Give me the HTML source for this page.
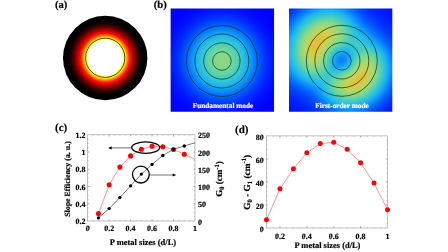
<!DOCTYPE html>
<html><head><meta charset="utf-8"><title>Figure</title>
<style>
html,body{margin:0;padding:0;background:#fff}
#f{position:relative;width:448px;height:252px;overflow:hidden;background:#fff}
.hm{position:absolute;overflow:hidden}
.hm div{position:absolute;left:0;width:100%;height:1.05px}
svg{position:absolute;left:0;top:0}
text{font-family:"Liberation Serif",serif;font-weight:bold;fill:#000;stroke:#000;stroke-width:0.18px;text-rendering:geometricPrecision}
</style></head><body>
<div id="f">
<div class="hm" style="left:170px;top:8px;width:105px;height:104px"><div style="top:0px;background:linear-gradient(90deg,#0000fe,#0000fe,#0000ff,#0000ff,#0000ff,#0001ff,#0002ff,#0004ff,#0005ff,#0007ff,#0009ff,#000bff,#000dff,#000eff,#0010ff,#0011ff,#0012ff,#0012ff,#0012ff,#0012ff,#0011ff,#000fff,#000eff,#000cff,#000aff,#0008ff,#0006ff,#0005ff,#0003ff,#0001ff,#0000ff,#0000ff,#0000ff,#0000fe,#0000fe,#0000fe)"></div><div style="top:1px;background:linear-gradient(90deg,#0000fe,#0000fe,#0000ff,#0000ff,#0000ff,#0001ff,#0003ff,#0005ff,#0006ff,#0009ff,#000bff,#000dff,#000fff,#0011ff,#0012ff,#0014ff,#0014ff,#0015ff,#0015ff,#0014ff,#0013ff,#0012ff,#0010ff,#000eff,#000cff,#000aff,#0008ff,#0006ff,#0004ff,#0002ff,#0001ff,#0000ff,#0000ff,#0000ff,#0000fe,#0000fe)"></div><div style="top:2px;background:linear-gradient(90deg,#0000fe,#0000fe,#0000ff,#0000ff,#0000ff,#0002ff,#0004ff,#0006ff,#0008ff,#000aff,#000cff,#000fff,#0011ff,#0013ff,#0015ff,#0016ff,#0017ff,#0018ff,#0018ff,#0017ff,#0016ff,#0014ff,#0012ff,#0010ff,#000eff,#000bff,#0009ff,#0007ff,#0005ff,#0003ff,#0001ff,#0000ff,#0000ff,#0000ff,#0000fe,#0000fe)"></div><div style="top:3px;background:linear-gradient(90deg,#0000fe,#0000ff,#0000ff,#0000ff,#0001ff,#0003ff,#0005ff,#0007ff,#0009ff,#000cff,#000eff,#0011ff,#0013ff,#0016ff,#0018ff,#0019ff,#001aff,#001bff,#001bff,#001aff,#0019ff,#0017ff,#0015ff,#0012ff,#0010ff,#000dff,#000bff,#0008ff,#0006ff,#0004ff,#0002ff,#0000ff,#0000ff,#0000ff,#0000fe,#0000fe)"></div><div style="top:4px;background:linear-gradient(90deg,#0000fe,#0000ff,#0000ff,#0000ff,#0002ff,#0004ff,#0006ff,#0008ff,#000bff,#000dff,#0010ff,#0013ff,#0016ff,#0019ff,#001bff,#001dff,#001eff,#001eff,#001eff,#001dff,#001cff,#001aff,#0018ff,#0015ff,#0012ff,#000fff,#000cff,#000aff,#0007ff,#0005ff,#0003ff,#0001ff,#0000ff,#0000ff,#0000ff,#0000fe)"></div><div style="top:5px;background:linear-gradient(90deg,#0000fe,#0000ff,#0000ff,#0001ff,#0002ff,#0004ff,#0007ff,#0009ff,#000cff,#000fff,#0013ff,#0016ff,#0019ff,#001cff,#001eff,#0020ff,#0021ff,#0022ff,#0022ff,#0021ff,#001fff,#001dff,#001bff,#0018ff,#0015ff,#0011ff,#000eff,#000bff,#0008ff,#0006ff,#0004ff,#0002ff,#0000ff,#0000ff,#0000ff,#0000fe)"></div><div style="top:6px;background:linear-gradient(90deg,#0000ff,#0000ff,#0000ff,#0001ff,#0003ff,#0005ff,#0008ff,#000bff,#000eff,#0012ff,#0015ff,#0019ff,#001cff,#001fff,#0022ff,#0024ff,#0025ff,#0026ff,#0026ff,#0025ff,#0023ff,#0021ff,#001eff,#001bff,#0017ff,#0014ff,#0010ff,#000dff,#000aff,#0007ff,#0004ff,#0002ff,#0001ff,#0000ff,#0000ff,#0000fe)"></div><div style="top:7px;background:linear-gradient(90deg,#0000ff,#0000ff,#0000ff,#0002ff,#0004ff,#0006ff,#0009ff,#000dff,#0010ff,#0014ff,#0018ff,#001cff,#001fff,#0023ff,#0026ff,#0028ff,#002aff,#002aff,#002aff,#0029ff,#0027ff,#0025ff,#0021ff,#001eff,#001aff,#0016ff,#0012ff,#000fff,#000bff,#0008ff,#0005ff,#0003ff,#0001ff,#0000ff,#0000ff,#0000ff)"></div><div style="top:8px;background:linear-gradient(90deg,#0000ff,#0000ff,#0001ff,#0003ff,#0005ff,#0008ff,#000bff,#000eff,#0012ff,#0016ff,#001bff,#001fff,#0023ff,#0027ff,#002aff,#002dff,#002eff,#002fff,#002fff,#002eff,#002cff,#0029ff,#0025ff,#0021ff,#001dff,#0019ff,#0015ff,#0011ff,#000dff,#0009ff,#0006ff,#0004ff,#0002ff,#0000ff,#0000ff,#0000ff)"></div><div style="top:9px;background:linear-gradient(90deg,#0000ff,#0000ff,#0001ff,#0003ff,#0006ff,#0009ff,#000cff,#0010ff,#0014ff,#0019ff,#001eff,#0022ff,#0027ff,#002bff,#002eff,#0031ff,#0033ff,#0034ff,#0034ff,#0032ff,#0030ff,#002dff,#0029ff,#0025ff,#0020ff,#001cff,#0017ff,#0013ff,#000eff,#000bff,#0008ff,#0005ff,#0003ff,#0001ff,#0000ff,#0000ff)"></div><div style="top:10px;background:linear-gradient(90deg,#0000ff,#0000ff,#0002ff,#0004ff,#0007ff,#000aff,#000eff,#0012ff,#0017ff,#001cff,#0021ff,#0026ff,#002bff,#002fff,#0033ff,#0036ff,#0038ff,#0039ff,#0039ff,#0038ff,#0035ff,#0032ff,#002eff,#0029ff,#0024ff,#001fff,#001aff,#0015ff,#0010ff,#000cff,#0009ff,#0006ff,#0003ff,#0001ff,#0000ff,#0000ff)"></div><div style="top:11px;background:linear-gradient(90deg,#0000ff,#0001ff,#0003ff,#0005ff,#0008ff,#000bff,#0010ff,#0014ff,#0019ff,#001fff,#0024ff,#002aff,#002fff,#0034ff,#0038ff,#003cff,#003eff,#003fff,#003fff,#003dff,#003bff,#0037ff,#0032ff,#002dff,#0028ff,#0022ff,#001cff,#0017ff,#0012ff,#000eff,#000aff,#0007ff,#0004ff,#0002ff,#0000ff,#0000ff)"></div><div style="top:12px;background:linear-gradient(90deg,#0000ff,#0001ff,#0003ff,#0006ff,#0009ff,#000dff,#0011ff,#0016ff,#001cff,#0022ff,#0028ff,#002eff,#0034ff,#0039ff,#003eff,#0042ff,#0044ff,#0045ff,#0045ff,#0043ff,#0040ff,#003cff,#0037ff,#0032ff,#002cff,#0026ff,#001fff,#001aff,#0014ff,#0010ff,#000bff,#0008ff,#0005ff,#0002ff,#0000ff,#0000ff)"></div><div style="top:13px;background:linear-gradient(90deg,#0000ff,#0002ff,#0004ff,#0007ff,#000aff,#000eff,#0013ff,#0019ff,#001fff,#0025ff,#002cff,#0033ff,#0039ff,#003fff,#0044ff,#0048ff,#004aff,#004bff,#004bff,#0049ff,#0046ff,#0042ff,#003dff,#0036ff,#0030ff,#0029ff,#0023ff,#001cff,#0017ff,#0011ff,#000dff,#0009ff,#0006ff,#0003ff,#0001ff,#0000ff)"></div><div style="top:14px;background:linear-gradient(90deg,#0000ff,#0002ff,#0005ff,#0008ff,#000cff,#0010ff,#0015ff,#001bff,#0022ff,#0029ff,#0030ff,#0037ff,#003eff,#0045ff,#004aff,#004eff,#0151ff,#0152ff,#0152ff,#0150ff,#004dff,#0048ff,#0042ff,#003bff,#0034ff,#002dff,#0026ff,#001fff,#0019ff,#0013ff,#000eff,#000aff,#0007ff,#0004ff,#0001ff,#0000ff)"></div><div style="top:15px;background:linear-gradient(90deg,#0001ff,#0003ff,#0006ff,#0009ff,#000dff,#0012ff,#0018ff,#001eff,#0025ff,#002dff,#0034ff,#003cff,#0044ff,#004bff,#0150ff,#0154ff,#0257fe,#0259fe,#0258fe,#0256fe,#0153ff,#004eff,#0048ff,#0041ff,#0039ff,#0031ff,#002aff,#0022ff,#001bff,#0015ff,#0010ff,#000bff,#0007ff,#0004ff,#0002ff,#0000ff)"></div><div style="top:16px;background:linear-gradient(90deg,#0001ff,#0003ff,#0006ff,#000aff,#000eff,#0014ff,#001aff,#0021ff,#0028ff,#0031ff,#0039ff,#0041ff,#004aff,#0151ff,#0256fe,#025bfe,#035efe,#0360fe,#035ffe,#035dfe,#0259fe,#0154ff,#004eff,#0046ff,#003eff,#0036ff,#002dff,#0025ff,#001eff,#0017ff,#0012ff,#000dff,#0008ff,#0005ff,#0002ff,#0000ff)"></div><div style="top:17px;background:linear-gradient(90deg,#0002ff,#0004ff,#0007ff,#000bff,#0010ff,#0016ff,#001cff,#0024ff,#002cff,#0035ff,#003eff,#0047ff,#014fff,#0257fe,#035dfe,#0462fe,#0465fe,#0467fe,#0467fe,#0464fe,#0360fe,#025bfe,#0154ff,#004cff,#0043ff,#003aff,#0031ff,#0029ff,#0021ff,#001aff,#0013ff,#000eff,#000aff,#0006ff,#0003ff,#0001ff)"></div><div style="top:18px;background:linear-gradient(90deg,#0002ff,#0005ff,#0008ff,#000cff,#0012ff,#0018ff,#001fff,#0027ff,#0030ff,#0039ff,#0043ff,#004dff,#0255ff,#035dfe,#0464fe,#0569fe,#056dfd,#056ffd,#056efd,#056cfd,#0468fe,#0362fe,#025afe,#0152ff,#0049ff,#003fff,#0035ff,#002cff,#0023ff,#001cff,#0015ff,#000fff,#000bff,#0007ff,#0004ff,#0001ff)"></div><div style="top:19px;background:linear-gradient(90deg,#0003ff,#0006ff,#0009ff,#000eff,#0013ff,#001aff,#0021ff,#002aff,#0034ff,#003eff,#0048ff,#0152ff,#035cfe,#0464fe,#056bfe,#0671fd,#0675fd,#0777fd,#0776fd,#0674fd,#066ffd,#0569fe,#0361fe,#0258fe,#014eff,#0044ff,#003aff,#0030ff,#0026ff,#001eff,#0017ff,#0011ff,#000cff,#0008ff,#0004ff,#0002ff)"></div><div style="top:20px;background:linear-gradient(90deg,#0003ff,#0006ff,#000aff,#000fff,#0015ff,#001cff,#0024ff,#002dff,#0038ff,#0042ff,#004dff,#0258fe,#0462fe,#056bfe,#0673fd,#0779fd,#087dfd,#087ffd,#087ffd,#087cfd,#0777fd,#0670fd,#0468fe,#035efe,#0154ff,#0049ff,#003eff,#0033ff,#002aff,#0021ff,#0019ff,#0012ff,#000dff,#0008ff,#0005ff,#0002ff)"></div><div style="top:21px;background:linear-gradient(90deg,#0004ff,#0007ff,#000bff,#0010ff,#0017ff,#001eff,#0027ff,#0031ff,#003cff,#0047ff,#0153ff,#035efe,#0569fe,#0672fd,#077bfd,#0881fc,#0986fc,#0988fc,#0987fc,#0984fc,#087ffd,#0778fd,#056ffd,#0464fe,#025afe,#014eff,#0043ff,#0037ff,#002dff,#0023ff,#001bff,#0014ff,#000eff,#0009ff,#0006ff,#0003ff)"></div><div style="top:22px;background:linear-gradient(90deg,#0004ff,#0008ff,#000cff,#0012ff,#0019ff,#0021ff,#002aff,#0034ff,#0040ff,#004cff,#0258fe,#0464fe,#0670fd,#077afd,#0983fc,#0a8afc,#0b8efb,#0c90fb,#0c8ffb,#0a8dfc,#0988fc,#0880fd,#0776fd,#056bfe,#035ffe,#0153ff,#0047ff,#003bff,#0030ff,#0026ff,#001dff,#0016ff,#000fff,#000aff,#0006ff,#0003ff)"></div><div style="top:23px;background:linear-gradient(90deg,#0005ff,#0009ff,#000dff,#0013ff,#001aff,#0023ff,#002dff,#0038ff,#0045ff,#0151ff,#035efe,#056bfe,#0777fd,#0882fc,#0a8bfc,#0c91fb,#0e95f9,#0f96f9,#0f96f9,#0e93fa,#0c8ffb,#0988fc,#087efd,#0672fd,#0466fe,#0259fe,#004cff,#003fff,#0034ff,#0029ff,#001fff,#0017ff,#0011ff,#000bff,#0007ff,#0004ff)"></div><div style="top:24px;background:linear-gradient(90deg,#0006ff,#000aff,#000fff,#0015ff,#001cff,#0026ff,#0030ff,#003cff,#0049ff,#0256fe,#0464fe,#0671fd,#087efd,#0a8afc,#0d92fa,#1098f9,#129bf7,#139df7,#129df7,#119af8,#0f95f9,#0c8ffb,#0985fc,#0779fd,#056cfd,#035efe,#0151ff,#0044ff,#0037ff,#002cff,#0022ff,#0019ff,#0012ff,#000cff,#0008ff,#0004ff)"></div><div style="top:25px;background:linear-gradient(90deg,#0006ff,#000aff,#0010ff,#0016ff,#001eff,#0028ff,#0033ff,#0040ff,#004eff,#035bfe,#056afe,#0778fd,#0986fc,#0c90fb,#1098f8,#139ef7,#15a2f5,#16a4f5,#16a4f5,#14a1f6,#129cf7,#0f95f9,#0a8dfc,#0880fd,#0672fd,#0464fe,#0256ff,#0048ff,#003bff,#002fff,#0024ff,#001bff,#0014ff,#000dff,#0009ff,#0005ff)"></div><div style="top:26px;background:linear-gradient(90deg,#0007ff,#000bff,#0011ff,#0018ff,#0021ff,#002bff,#0037ff,#0044ff,#0152ff,#0361fe,#0670fd,#087ffd,#0a8dfc,#0f97f9,#139ff6,#17a5f4,#19a9f3,#1aabf3,#19abf3,#18a8f4,#15a3f5,#129cf7,#0d93fa,#0988fc,#0779fd,#056afe,#025bfe,#004cff,#003eff,#0032ff,#0026ff,#001dff,#0015ff,#000fff,#0009ff,#0005ff)"></div><div style="top:27px;background:linear-gradient(90deg,#0008ff,#000cff,#0012ff,#001aff,#0023ff,#002dff,#003aff,#0048ff,#0257fe,#0466fe,#0776fd,#0986fc,#0d93fa,#129df7,#17a5f4,#1aacf2,#1cb1f1,#1db3f0,#1db2f1,#1caff1,#19aaf3,#15a2f5,#1099f8,#0b8efb,#0880fd,#0670fd,#0360fe,#0151ff,#0042ff,#0035ff,#0029ff,#001fff,#0016ff,#0010ff,#000aff,#0006ff)"></div><div style="top:28px;background:linear-gradient(90deg,#0008ff,#000dff,#0013ff,#001bff,#0025ff,#0030ff,#003dff,#004cff,#025bfe,#056bfe,#087cfd,#0a8dfc,#1098f8,#15a3f5,#1aacf2,#1eb3f0,#20b6ee,#21b7ec,#21b7ed,#1fb5ef,#1cb1f1,#18a9f3,#139ff6,#0e94fa,#0986fc,#0775fd,#0465fe,#0255ff,#0046ff,#0038ff,#002bff,#0021ff,#0018ff,#0011ff,#000bff,#0007ff)"></div><div style="top:29px;background:linear-gradient(90deg,#0009ff,#000eff,#0015ff,#001dff,#0027ff,#0033ff,#0041ff,#0150ff,#0360fe,#0671fd,#0983fc,#0d92fa,#139ef7,#19a9f3,#1db3f0,#21b7ec,#24bae9,#25bbe8,#24bae8,#23b9ea,#20b6ee,#1caff1,#16a5f5,#1199f8,#0a8dfc,#077bfd,#056afe,#0259fe,#004aff,#003bff,#002eff,#0023ff,#0019ff,#0012ff,#000cff,#0007ff)"></div><div style="top:30px;background:linear-gradient(90deg,#000aff,#000fff,#0016ff,#001fff,#0029ff,#0035ff,#0044ff,#0154ff,#0464fe,#0776fd,#0a89fc,#1097f9,#16a4f5,#1cb0f1,#21b7ed,#25bbe8,#27bde4,#29bfe3,#28bee3,#26bce5,#23b9e9,#1fb5ef,#1aabf3,#139ff6,#0d92fa,#0881fc,#066ffd,#035efe,#004dff,#003eff,#0030ff,#0025ff,#001bff,#0013ff,#000dff,#0008ff)"></div><div style="top:31px;background:linear-gradient(90deg,#000aff,#0010ff,#0017ff,#0020ff,#002bff,#0038ff,#0047ff,#0258fe,#0569fe,#087cfd,#0b8efb,#129cf7,#19aaf3,#1fb5ef,#24bae8,#28bee3,#2bc1e0,#2cc2de,#2cc2de,#2ac0e1,#27bde5,#22b8eb,#1db1f1,#16a4f5,#0f97f9,#0988fc,#0674fd,#0462fe,#0151ff,#0041ff,#0033ff,#0027ff,#001cff,#0014ff,#000dff,#0008ff)"></div><div style="top:32px;background:linear-gradient(90deg,#000bff,#0011ff,#0018ff,#0022ff,#002dff,#003bff,#004bff,#035cfe,#056efd,#0881fc,#0d93fa,#15a2f6,#1cb0f1,#22b8eb,#28bee4,#2cc2df,#2fc5db,#30c6d9,#30c6da,#2ec4dc,#2ac0e1,#26bce7,#20b6ee,#19aaf3,#129cf7,#0b8dfc,#0779fd,#0466fe,#0155ff,#0044ff,#0035ff,#0028ff,#001eff,#0015ff,#000eff,#0009ff)"></div><div style="top:33px;background:linear-gradient(90deg,#000cff,#0012ff,#001aff,#0023ff,#002fff,#003eff,#004eff,#035ffe,#0672fd,#0987fc,#1098f9,#17a7f4,#1fb5ef,#25bbe7,#2bc1e0,#2fc5da,#33c8d6,#36c9d3,#35c9d4,#31c7d8,#2ec4dc,#29bfe2,#23b9ea,#1cb0f1,#14a1f6,#0d91fa,#087ffd,#056bfe,#0258fe,#0047ff,#0038ff,#002aff,#001fff,#0016ff,#000fff,#000aff)"></div><div style="top:34px;background:linear-gradient(90deg,#000cff,#0013ff,#001bff,#0025ff,#0032ff,#0040ff,#0151ff,#0463fe,#0777fd,#0a8cfc,#129cf7,#1aacf2,#21b7ec,#28bee3,#2ec4dc,#34c9d5,#3acace,#3dcbca,#3ccbcb,#38cad0,#31c7d8,#2cc2de,#26bce6,#1fb5ef,#17a6f4,#0f96f9,#0984fc,#066ffd,#035cfe,#004aff,#003aff,#002cff,#0021ff,#0017ff,#0010ff,#000aff)"></div><div style="top:35px;background:linear-gradient(90deg,#000dff,#0014ff,#001cff,#0027ff,#0034ff,#0043ff,#0154ff,#0467fe,#077cfd,#0c90fb,#14a0f6,#1cb1f1,#24bae8,#2bc1df,#32c8d7,#3bcacd,#42ccc6,#44cdc2,#44ccc3,#3fcbc8,#37c9d1,#2fc5da,#29bfe3,#21b7ec,#19aaf3,#119af8,#0989fc,#0673fd,#035ffe,#004dff,#003dff,#002eff,#0022ff,#0018ff,#0011ff,#000bff)"></div><div style="top:36px;background:linear-gradient(90deg,#000eff,#0015ff,#001dff,#0028ff,#0036ff,#0046ff,#0257fe,#056bfe,#0880fd,#0e94fa,#16a5f5,#1fb5ef,#27bde5,#2fc5db,#38c9d0,#42ccc5,#49cebe,#4cceba,#4bcebb,#46cdc0,#3ecbc9,#33c8d6,#2cc2df,#24bae9,#1caff1,#139ef7,#0b8dfc,#0777fd,#0463fe,#0150ff,#003fff,#0030ff,#0024ff,#001aff,#0012ff,#000bff)"></div><div style="top:37px;background:linear-gradient(90deg,#000eff,#0015ff,#001eff,#002aff,#0038ff,#0048ff,#025afe,#056efd,#0984fc,#1097f9,#19a9f3,#21b7ec,#2ac0e1,#31c7d8,#3ecbc9,#48cebe,#4fcfb6,#53d0b2,#52d0b3,#4dcfb9,#45cdc2,#39cacf,#2ec4db,#26bce5,#1eb4f0,#15a2f5,#0c91fb,#077bfd,#0466fe,#0153ff,#0041ff,#0032ff,#0025ff,#001bff,#0012ff,#000cff)"></div><div style="top:38px;background:linear-gradient(90deg,#000fff,#0016ff,#0020ff,#002bff,#003aff,#004bff,#035dfe,#0672fd,#0989fc,#129bf7,#1badf2,#24bae9,#2cc2de,#37c9d2,#44cdc3,#4fcfb6,#56d1ae,#59d2ab,#59d2ac,#54d0b1,#4bcebb,#3fcbc8,#31c7d8,#29bfe2,#20b6ed,#17a6f4,#0e94fa,#087ffd,#0569fe,#0255ff,#0044ff,#0034ff,#0026ff,#001cff,#0013ff,#000cff)"></div><div style="top:39px;background:linear-gradient(90deg,#000fff,#0017ff,#0021ff,#002dff,#003bff,#004dff,#0360fe,#0675fd,#0a8cfc,#139ef6,#1db1f1,#26bce6,#2fc5db,#3ccbcc,#4acebc,#55d1b0,#5dd2a8,#60d3a6,#5fd3a6,#5ad2aa,#51d0b4,#45cdc2,#36c9d3,#2bc1df,#22b8eb,#19aaf3,#1097f9,#0983fc,#056cfd,#0258fe,#0046ff,#0035ff,#0028ff,#001dff,#0014ff,#000dff)"></div><div style="top:40px;background:linear-gradient(90deg,#0010ff,#0018ff,#0022ff,#002eff,#003dff,#014fff,#0462fe,#0778fd,#0c8ffb,#15a2f5,#1eb4ef,#28bee3,#31c7d8,#41ccc6,#50cfb6,#5bd2a9,#63d3a4,#67d4a1,#66d4a2,#60d3a5,#57d1ad,#4acebc,#3bcacd,#2ec4dc,#24bae8,#1badf2,#119af8,#0987fc,#066ffd,#025afe,#0048ff,#0037ff,#0029ff,#001dff,#0014ff,#000dff)"></div><div style="top:41px;background:linear-gradient(90deg,#0011ff,#0019ff,#0023ff,#002fff,#003fff,#0151ff,#0465fe,#077bfd,#0d92fa,#16a5f5,#20b6ed,#2ac0e1,#35c9d4,#46cdc0,#55d1b0,#61d3a5,#69d49f,#6dd59d,#6cd59d,#66d4a1,#5dd2a8,#4fcfb6,#40cbc8,#30c6da,#26bce6,#1cb1f1,#139df7,#0a8afc,#0672fd,#035dfe,#004aff,#0038ff,#002aff,#001eff,#0015ff,#000eff)"></div><div style="top:42px;background:linear-gradient(90deg,#0011ff,#0019ff,#0024ff,#0031ff,#0041ff,#0153ff,#0467fe,#087efd,#0e94fa,#18a8f4,#22b8eb,#2cc2df,#39cacf,#4bcebb,#5ad2aa,#66d4a1,#6fd59b,#73d698,#72d599,#6cd59d,#62d3a4,#54d1b0,#44cdc3,#32c8d7,#28bee4,#1eb4f0,#14a0f6,#0a8dfc,#0675fd,#035ffe,#004bff,#003aff,#002bff,#001fff,#0016ff,#000eff)"></div><div style="top:43px;background:linear-gradient(90deg,#0012ff,#001aff,#0024ff,#0032ff,#0042ff,#0155ff,#0569fe,#0881fd,#0f97f9,#19aaf3,#23b9e9,#2ec4dc,#3dcbca,#4fcfb6,#5fd3a7,#6cd59d,#74d697,#78d695,#77d695,#71d599,#67d4a1,#59d2ab,#48cebe,#35c9d3,#2ac0e1,#1fb5ee,#15a2f5,#0b8ffb,#0777fd,#0361fe,#004dff,#003bff,#002cff,#0020ff,#0016ff,#000fff)"></div><div style="top:44px;background:linear-gradient(90deg,#0012ff,#001aff,#0025ff,#0033ff,#0043ff,#0256fe,#056bfe,#0983fc,#1099f8,#1aadf2,#25bbe7,#2fc5da,#41ccc6,#53d0b2,#63d3a3,#70d59a,#79d694,#7dd791,#7cd792,#76d696,#6cd59d,#5dd2a8,#4ccfba,#39cacf,#2bc1e0,#21b7ed,#16a5f5,#0c91fb,#0779fd,#0462fe,#014eff,#003cff,#002dff,#0021ff,#0017ff,#000fff)"></div><div style="top:45px;background:linear-gradient(90deg,#0012ff,#001bff,#0026ff,#0034ff,#0045ff,#0258fe,#056dfd,#0985fc,#119af8,#1caff1,#26bce6,#31c7d8,#44cdc3,#57d1ae,#67d4a0,#75d697,#7dd791,#81d78e,#80d78f,#7ad793,#70d59a,#61d3a5,#50cfb6,#3ccbcc,#2dc3de,#22b8eb,#17a7f4,#0d93fa,#077bfd,#0464fe,#0150ff,#003dff,#002eff,#0021ff,#0017ff,#000fff)"></div><div style="top:46px;background:linear-gradient(90deg,#0013ff,#001bff,#0027ff,#0035ff,#0046ff,#0259fe,#056ffd,#0987fc,#129cf7,#1db1f1,#27bde4,#32c8d7,#47cdbf,#5ad2aa,#6bd49e,#78d694,#81d78e,#84d78b,#83d78c,#7ed790,#73d698,#65d4a2,#53d0b2,#3fcbc9,#2ec4dc,#23b9ea,#18a9f3,#0e94fa,#087dfd,#0466fe,#0151ff,#003eff,#002fff,#0022ff,#0018ff,#0010ff)"></div><div style="top:47px;background:linear-gradient(90deg,#0013ff,#001cff,#0027ff,#0035ff,#0047ff,#025afe,#0670fd,#0a89fc,#139ef7,#1db3f0,#28bee3,#35c9d4,#49cebd,#5dd2a8,#6ed59c,#7cd792,#84d78b,#87d789,#86d789,#81d78e,#77d695,#68d4a0,#55d1af,#41ccc6,#2fc5db,#24bae9,#19aaf3,#0f96f9,#087ffd,#0467fe,#0152ff,#003fff,#002fff,#0022ff,#0018ff,#0010ff)"></div><div style="top:48px;background:linear-gradient(90deg,#0013ff,#001cff,#0028ff,#0036ff,#0047ff,#025bfe,#0671fd,#0a8afc,#139ff6,#1eb4f0,#29bfe2,#36c9d2,#4cceba,#5fd3a6,#71d59a,#7ed790,#86d789,#8ad786,#89d787,#83d78c,#79d694,#6ad49e,#58d1ad,#43ccc4,#30c6da,#25bbe8,#1aacf3,#0f97f9,#0880fd,#0468fe,#0153ff,#0040ff,#0030ff,#0023ff,#0018ff,#0010ff)"></div><div style="top:49px;background:linear-gradient(90deg,#0013ff,#001cff,#0028ff,#0036ff,#0048ff,#035cfe,#0672fd,#0a8cfc,#14a0f6,#1fb5ef,#2ac0e1,#38c9d0,#4dcfb8,#61d3a5,#73d698,#80d78e,#88d788,#8cd785,#8bd786,#85d78a,#7cd792,#6cd59d,#59d2ab,#45cdc2,#31c7d9,#25bbe7,#1aadf2,#1098f9,#0881fd,#0569fe,#0153ff,#0041ff,#0030ff,#0023ff,#0019ff,#0010ff)"></div><div style="top:50px;background:linear-gradient(90deg,#0014ff,#001dff,#0028ff,#0037ff,#0048ff,#035cfe,#0673fd,#0a8cfc,#14a1f6,#1fb5ef,#2ac0e1,#39cacf,#4fcfb7,#63d3a4,#74d697,#82d78d,#8ad787,#8dd884,#8cd884,#87d789,#7dd791,#6ed59c,#5bd2a9,#46cdc0,#31c7d8,#26bce6,#1badf2,#1098f8,#0882fc,#0569fe,#0154ff,#0041ff,#0031ff,#0023ff,#0019ff,#0011ff)"></div><div style="top:51px;background:linear-gradient(90deg,#0014ff,#001dff,#0028ff,#0037ff,#0049ff,#035dfe,#0673fd,#0a8dfc,#15a1f6,#1fb5ee,#2bc1e0,#3acace,#50cfb6,#64d3a3,#76d696,#83d78c,#8bd786,#8ed883,#8dd883,#88d788,#7ed790,#6fd59b,#5cd2a9,#47cdbf,#31c7d8,#26bce6,#1baef2,#1099f8,#0982fc,#056afe,#0154ff,#0041ff,#0031ff,#0023ff,#0019ff,#0011ff)"></div><div style="top:52px;background:linear-gradient(90deg,#0014ff,#001dff,#0029ff,#0037ff,#0049ff,#035dfe,#0674fd,#0a8dfc,#15a1f6,#20b6ee,#2bc1e0,#3acace,#50cfb5,#64d3a3,#76d696,#83d78c,#8bd785,#8fd882,#8ed883,#88d788,#7fd790,#6fd59b,#5cd2a8,#47cdbf,#32c8d7,#26bce6,#1baef2,#1199f8,#0983fc,#056afe,#0155ff,#0041ff,#0031ff,#0024ff,#0019ff,#0011ff)"></div><div style="top:53px;background:linear-gradient(90deg,#0014ff,#001dff,#0029ff,#0037ff,#0049ff,#035dfe,#0674fd,#0a8dfc,#15a1f6,#20b6ee,#2bc1e0,#3acace,#50cfb5,#64d3a3,#76d696,#83d78c,#8bd785,#8fd882,#8ed883,#88d788,#7fd790,#6fd59b,#5cd2a8,#47cdbf,#32c8d7,#26bce6,#1baef2,#1199f8,#0983fc,#056afe,#0155ff,#0041ff,#0031ff,#0024ff,#0019ff,#0011ff)"></div><div style="top:54px;background:linear-gradient(90deg,#0014ff,#001dff,#0028ff,#0037ff,#0049ff,#035dfe,#0673fd,#0a8dfc,#15a1f6,#1fb5ee,#2bc1e0,#3acace,#50cfb6,#64d3a3,#76d696,#83d78c,#8bd786,#8ed883,#8dd883,#88d788,#7ed790,#6fd59b,#5cd2a9,#47cdbf,#31c7d8,#26bce6,#1baef2,#1099f8,#0982fc,#056afe,#0154ff,#0041ff,#0031ff,#0023ff,#0019ff,#0011ff)"></div><div style="top:55px;background:linear-gradient(90deg,#0014ff,#001dff,#0028ff,#0037ff,#0048ff,#035cfe,#0673fd,#0a8cfc,#14a1f6,#1fb5ef,#2ac0e1,#39cacf,#4fcfb7,#63d3a4,#74d697,#82d78d,#8ad787,#8dd884,#8cd884,#87d789,#7dd791,#6ed59c,#5bd2a9,#46cdc0,#31c7d8,#26bce6,#1badf2,#1098f8,#0882fc,#0569fe,#0154ff,#0041ff,#0031ff,#0023ff,#0019ff,#0011ff)"></div><div style="top:56px;background:linear-gradient(90deg,#0013ff,#001cff,#0028ff,#0036ff,#0048ff,#035cfe,#0672fd,#0a8cfc,#14a0f6,#1fb5ef,#2ac0e1,#38c9d0,#4dcfb8,#61d3a5,#73d698,#80d78e,#88d788,#8cd785,#8bd786,#85d78a,#7cd792,#6cd59d,#59d2ab,#45cdc2,#31c7d9,#25bbe7,#1aadf2,#1098f9,#0881fd,#0569fe,#0153ff,#0041ff,#0030ff,#0023ff,#0019ff,#0010ff)"></div><div style="top:57px;background:linear-gradient(90deg,#0013ff,#001cff,#0028ff,#0036ff,#0047ff,#025bfe,#0671fd,#0a8afc,#139ff6,#1eb4f0,#29bfe2,#36c9d2,#4cceba,#5fd3a6,#71d59a,#7ed790,#86d789,#8ad786,#89d787,#83d78c,#79d694,#6ad49e,#58d1ad,#43ccc4,#30c6da,#25bbe8,#1aacf3,#0f97f9,#0880fd,#0468fe,#0153ff,#0040ff,#0030ff,#0023ff,#0018ff,#0010ff)"></div><div style="top:58px;background:linear-gradient(90deg,#0013ff,#001cff,#0027ff,#0035ff,#0047ff,#025afe,#0670fd,#0a89fc,#139ef7,#1db3f0,#28bee3,#35c9d4,#49cebd,#5dd2a8,#6ed59c,#7cd792,#84d78b,#87d789,#86d789,#81d78e,#77d695,#68d4a0,#55d1af,#41ccc6,#2fc5db,#24bae9,#19aaf3,#0f96f9,#087ffd,#0467fe,#0152ff,#003fff,#002fff,#0022ff,#0018ff,#0010ff)"></div><div style="top:59px;background:linear-gradient(90deg,#0013ff,#001bff,#0027ff,#0035ff,#0046ff,#0259fe,#056ffd,#0987fc,#129cf7,#1db1f1,#27bde4,#32c8d7,#47cdbf,#5ad2aa,#6bd49e,#78d694,#81d78e,#84d78b,#83d78c,#7ed790,#73d698,#65d4a2,#53d0b2,#3fcbc9,#2ec4dc,#23b9ea,#18a9f3,#0e94fa,#087dfd,#0466fe,#0151ff,#003eff,#002fff,#0022ff,#0018ff,#0010ff)"></div><div style="top:60px;background:linear-gradient(90deg,#0012ff,#001bff,#0026ff,#0034ff,#0045ff,#0258fe,#056dfd,#0985fc,#119af8,#1caff1,#26bce6,#31c7d8,#44cdc3,#57d1ae,#67d4a0,#75d697,#7dd791,#81d78e,#80d78f,#7ad793,#70d59a,#61d3a5,#50cfb6,#3ccbcc,#2dc3de,#22b8eb,#17a7f4,#0d93fa,#077bfd,#0464fe,#0150ff,#003dff,#002eff,#0021ff,#0017ff,#000fff)"></div><div style="top:61px;background:linear-gradient(90deg,#0012ff,#001aff,#0025ff,#0033ff,#0043ff,#0256fe,#056bfe,#0983fc,#1099f8,#1aadf2,#25bbe7,#2fc5da,#41ccc6,#53d0b2,#63d3a3,#70d59a,#79d694,#7dd791,#7cd792,#76d696,#6cd59d,#5dd2a8,#4ccfba,#39cacf,#2bc1e0,#21b7ed,#16a5f5,#0c91fb,#0779fd,#0462fe,#014eff,#003cff,#002dff,#0021ff,#0017ff,#000fff)"></div><div style="top:62px;background:linear-gradient(90deg,#0012ff,#001aff,#0024ff,#0032ff,#0042ff,#0155ff,#0569fe,#0881fd,#0f97f9,#19aaf3,#23b9e9,#2ec4dc,#3dcbca,#4fcfb6,#5fd3a7,#6cd59d,#74d697,#78d695,#77d695,#71d599,#67d4a1,#59d2ab,#48cebe,#35c9d3,#2ac0e1,#1fb5ee,#15a2f5,#0b8ffb,#0777fd,#0361fe,#004dff,#003bff,#002cff,#0020ff,#0016ff,#000fff)"></div><div style="top:63px;background:linear-gradient(90deg,#0011ff,#0019ff,#0024ff,#0031ff,#0041ff,#0153ff,#0467fe,#087efd,#0e94fa,#18a8f4,#22b8eb,#2cc2df,#39cacf,#4bcebb,#5ad2aa,#66d4a1,#6fd59b,#73d698,#72d599,#6cd59d,#62d3a4,#54d1b0,#44cdc3,#32c8d7,#28bee4,#1eb4f0,#14a0f6,#0a8dfc,#0675fd,#035ffe,#004bff,#003aff,#002bff,#001fff,#0016ff,#000eff)"></div><div style="top:64px;background:linear-gradient(90deg,#0011ff,#0019ff,#0023ff,#002fff,#003fff,#0151ff,#0465fe,#077bfd,#0d92fa,#16a5f5,#20b6ed,#2ac0e1,#35c9d4,#46cdc0,#55d1b0,#61d3a5,#69d49f,#6dd59d,#6cd59d,#66d4a1,#5dd2a8,#4fcfb6,#40cbc8,#30c6da,#26bce6,#1cb1f1,#139df7,#0a8afc,#0672fd,#035dfe,#004aff,#0038ff,#002aff,#001eff,#0015ff,#000eff)"></div><div style="top:65px;background:linear-gradient(90deg,#0010ff,#0018ff,#0022ff,#002eff,#003dff,#014fff,#0462fe,#0778fd,#0c8ffb,#15a2f5,#1eb4ef,#28bee3,#31c7d8,#41ccc6,#50cfb6,#5bd2a9,#63d3a4,#67d4a1,#66d4a2,#60d3a5,#57d1ad,#4acebc,#3bcacd,#2ec4dc,#24bae8,#1badf2,#119af8,#0987fc,#066ffd,#025afe,#0048ff,#0037ff,#0029ff,#001dff,#0014ff,#000dff)"></div><div style="top:66px;background:linear-gradient(90deg,#000fff,#0017ff,#0021ff,#002dff,#003bff,#004dff,#0360fe,#0675fd,#0a8cfc,#139ef6,#1db1f1,#26bce6,#2fc5db,#3ccbcc,#4acebc,#55d1b0,#5dd2a8,#60d3a6,#5fd3a6,#5ad2aa,#51d0b4,#45cdc2,#36c9d3,#2bc1df,#22b8eb,#19aaf3,#1097f9,#0983fc,#056cfd,#0258fe,#0046ff,#0035ff,#0028ff,#001dff,#0014ff,#000dff)"></div><div style="top:67px;background:linear-gradient(90deg,#000fff,#0016ff,#0020ff,#002bff,#003aff,#004bff,#035dfe,#0672fd,#0989fc,#129bf7,#1badf2,#24bae9,#2cc2de,#37c9d2,#44cdc3,#4fcfb6,#56d1ae,#59d2ab,#59d2ac,#54d0b1,#4bcebb,#3fcbc8,#31c7d8,#29bfe2,#20b6ed,#17a6f4,#0e94fa,#087ffd,#0569fe,#0255ff,#0044ff,#0034ff,#0026ff,#001cff,#0013ff,#000cff)"></div><div style="top:68px;background:linear-gradient(90deg,#000eff,#0015ff,#001eff,#002aff,#0038ff,#0048ff,#025afe,#056efd,#0984fc,#1097f9,#19a9f3,#21b7ec,#2ac0e1,#31c7d8,#3ecbc9,#48cebe,#4fcfb6,#53d0b2,#52d0b3,#4dcfb9,#45cdc2,#39cacf,#2ec4db,#26bce5,#1eb4f0,#15a2f5,#0c91fb,#077bfd,#0466fe,#0153ff,#0041ff,#0032ff,#0025ff,#001bff,#0012ff,#000cff)"></div><div style="top:69px;background:linear-gradient(90deg,#000eff,#0015ff,#001dff,#0028ff,#0036ff,#0046ff,#0257fe,#056bfe,#0880fd,#0e94fa,#16a5f5,#1fb5ef,#27bde5,#2fc5db,#38c9d0,#42ccc5,#49cebe,#4cceba,#4bcebb,#46cdc0,#3ecbc9,#33c8d6,#2cc2df,#24bae9,#1caff1,#139ef7,#0b8dfc,#0777fd,#0463fe,#0150ff,#003fff,#0030ff,#0024ff,#001aff,#0012ff,#000bff)"></div><div style="top:70px;background:linear-gradient(90deg,#000dff,#0014ff,#001cff,#0027ff,#0034ff,#0043ff,#0154ff,#0467fe,#077cfd,#0c90fb,#14a0f6,#1cb1f1,#24bae8,#2bc1df,#32c8d7,#3bcacd,#42ccc6,#44cdc2,#44ccc3,#3fcbc8,#37c9d1,#2fc5da,#29bfe3,#21b7ec,#19aaf3,#119af8,#0989fc,#0673fd,#035ffe,#004dff,#003dff,#002eff,#0022ff,#0018ff,#0011ff,#000bff)"></div><div style="top:71px;background:linear-gradient(90deg,#000cff,#0013ff,#001bff,#0025ff,#0032ff,#0040ff,#0151ff,#0463fe,#0777fd,#0a8cfc,#129cf7,#1aacf2,#21b7ec,#28bee3,#2ec4dc,#34c9d5,#3acace,#3dcbca,#3ccbcb,#38cad0,#31c7d8,#2cc2de,#26bce6,#1fb5ef,#17a6f4,#0f96f9,#0984fc,#066ffd,#035cfe,#004aff,#003aff,#002cff,#0021ff,#0017ff,#0010ff,#000aff)"></div><div style="top:72px;background:linear-gradient(90deg,#000cff,#0012ff,#001aff,#0023ff,#002fff,#003eff,#004eff,#035ffe,#0672fd,#0987fc,#1098f9,#17a7f4,#1fb5ef,#25bbe7,#2bc1e0,#2fc5da,#33c8d6,#36c9d3,#35c9d4,#31c7d8,#2ec4dc,#29bfe2,#23b9ea,#1cb0f1,#14a1f6,#0d91fa,#087ffd,#056bfe,#0258fe,#0047ff,#0038ff,#002aff,#001fff,#0016ff,#000fff,#000aff)"></div><div style="top:73px;background:linear-gradient(90deg,#000bff,#0011ff,#0018ff,#0022ff,#002dff,#003bff,#004bff,#035cfe,#056efd,#0881fc,#0d93fa,#15a2f6,#1cb0f1,#22b8eb,#28bee4,#2cc2df,#2fc5db,#30c6d9,#30c6da,#2ec4dc,#2ac0e1,#26bce7,#20b6ee,#19aaf3,#129cf7,#0b8dfc,#0779fd,#0466fe,#0155ff,#0044ff,#0035ff,#0028ff,#001eff,#0015ff,#000eff,#0009ff)"></div><div style="top:74px;background:linear-gradient(90deg,#000aff,#0010ff,#0017ff,#0020ff,#002bff,#0038ff,#0047ff,#0258fe,#0569fe,#087cfd,#0b8efb,#129cf7,#19aaf3,#1fb5ef,#24bae8,#28bee3,#2bc1e0,#2cc2de,#2cc2de,#2ac0e1,#27bde5,#22b8eb,#1db1f1,#16a4f5,#0f97f9,#0988fc,#0674fd,#0462fe,#0151ff,#0041ff,#0033ff,#0027ff,#001cff,#0014ff,#000dff,#0008ff)"></div><div style="top:75px;background:linear-gradient(90deg,#000aff,#000fff,#0016ff,#001fff,#0029ff,#0035ff,#0044ff,#0154ff,#0464fe,#0776fd,#0a89fc,#1097f9,#16a4f5,#1cb0f1,#21b7ed,#25bbe8,#27bde4,#29bfe3,#28bee3,#26bce5,#23b9e9,#1fb5ef,#1aabf3,#139ff6,#0d92fa,#0881fc,#066ffd,#035efe,#004dff,#003eff,#0030ff,#0025ff,#001bff,#0013ff,#000dff,#0008ff)"></div><div style="top:76px;background:linear-gradient(90deg,#0009ff,#000eff,#0015ff,#001dff,#0027ff,#0033ff,#0041ff,#0150ff,#0360fe,#0671fd,#0983fc,#0d92fa,#139ef7,#19a9f3,#1db3f0,#21b7ec,#24bae9,#25bbe8,#24bae8,#23b9ea,#20b6ee,#1caff1,#16a5f5,#1199f8,#0a8dfc,#077bfd,#056afe,#0259fe,#004aff,#003bff,#002eff,#0023ff,#0019ff,#0012ff,#000cff,#0007ff)"></div><div style="top:77px;background:linear-gradient(90deg,#0008ff,#000dff,#0013ff,#001bff,#0025ff,#0030ff,#003dff,#004cff,#025bfe,#056bfe,#087cfd,#0a8dfc,#1098f8,#15a3f5,#1aacf2,#1eb3f0,#20b6ee,#21b7ec,#21b7ed,#1fb5ef,#1cb1f1,#18a9f3,#139ff6,#0e94fa,#0986fc,#0775fd,#0465fe,#0255ff,#0046ff,#0038ff,#002bff,#0021ff,#0018ff,#0011ff,#000bff,#0007ff)"></div><div style="top:78px;background:linear-gradient(90deg,#0008ff,#000cff,#0012ff,#001aff,#0023ff,#002dff,#003aff,#0048ff,#0257fe,#0466fe,#0776fd,#0986fc,#0d93fa,#129df7,#17a5f4,#1aacf2,#1cb1f1,#1db3f0,#1db2f1,#1caff1,#19aaf3,#15a2f5,#1099f8,#0b8efb,#0880fd,#0670fd,#0360fe,#0151ff,#0042ff,#0035ff,#0029ff,#001fff,#0016ff,#0010ff,#000aff,#0006ff)"></div><div style="top:79px;background:linear-gradient(90deg,#0007ff,#000bff,#0011ff,#0018ff,#0021ff,#002bff,#0037ff,#0044ff,#0152ff,#0361fe,#0670fd,#087ffd,#0a8dfc,#0f97f9,#139ff6,#17a5f4,#19a9f3,#1aabf3,#19abf3,#18a8f4,#15a3f5,#129cf7,#0d93fa,#0988fc,#0779fd,#056afe,#025bfe,#004cff,#003eff,#0032ff,#0026ff,#001dff,#0015ff,#000fff,#0009ff,#0005ff)"></div><div style="top:80px;background:linear-gradient(90deg,#0006ff,#000aff,#0010ff,#0016ff,#001eff,#0028ff,#0033ff,#0040ff,#004eff,#035bfe,#056afe,#0778fd,#0986fc,#0c90fb,#1098f8,#139ef7,#15a2f5,#16a4f5,#16a4f5,#14a1f6,#129cf7,#0f95f9,#0a8dfc,#0880fd,#0672fd,#0464fe,#0256ff,#0048ff,#003bff,#002fff,#0024ff,#001bff,#0014ff,#000dff,#0009ff,#0005ff)"></div><div style="top:81px;background:linear-gradient(90deg,#0006ff,#000aff,#000fff,#0015ff,#001cff,#0026ff,#0030ff,#003cff,#0049ff,#0256fe,#0464fe,#0671fd,#087efd,#0a8afc,#0d92fa,#1098f9,#129bf7,#139df7,#129df7,#119af8,#0f95f9,#0c8ffb,#0985fc,#0779fd,#056cfd,#035efe,#0151ff,#0044ff,#0037ff,#002cff,#0022ff,#0019ff,#0012ff,#000cff,#0008ff,#0004ff)"></div><div style="top:82px;background:linear-gradient(90deg,#0005ff,#0009ff,#000dff,#0013ff,#001aff,#0023ff,#002dff,#0038ff,#0045ff,#0151ff,#035efe,#056bfe,#0777fd,#0882fc,#0a8bfc,#0c91fb,#0e95f9,#0f96f9,#0f96f9,#0e93fa,#0c8ffb,#0988fc,#087efd,#0672fd,#0466fe,#0259fe,#004cff,#003fff,#0034ff,#0029ff,#001fff,#0017ff,#0011ff,#000bff,#0007ff,#0004ff)"></div><div style="top:83px;background:linear-gradient(90deg,#0004ff,#0008ff,#000cff,#0012ff,#0019ff,#0021ff,#002aff,#0034ff,#0040ff,#004cff,#0258fe,#0464fe,#0670fd,#077afd,#0983fc,#0a8afc,#0b8efb,#0c90fb,#0c8ffb,#0a8dfc,#0988fc,#0880fd,#0776fd,#056bfe,#035ffe,#0153ff,#0047ff,#003bff,#0030ff,#0026ff,#001dff,#0016ff,#000fff,#000aff,#0006ff,#0003ff)"></div><div style="top:84px;background:linear-gradient(90deg,#0004ff,#0007ff,#000bff,#0010ff,#0017ff,#001eff,#0027ff,#0031ff,#003cff,#0047ff,#0153ff,#035efe,#0569fe,#0672fd,#077bfd,#0881fc,#0986fc,#0988fc,#0987fc,#0984fc,#087ffd,#0778fd,#056ffd,#0464fe,#025afe,#014eff,#0043ff,#0037ff,#002dff,#0023ff,#001bff,#0014ff,#000eff,#0009ff,#0006ff,#0003ff)"></div><div style="top:85px;background:linear-gradient(90deg,#0003ff,#0006ff,#000aff,#000fff,#0015ff,#001cff,#0024ff,#002dff,#0038ff,#0042ff,#004dff,#0258fe,#0462fe,#056bfe,#0673fd,#0779fd,#087dfd,#087ffd,#087ffd,#087cfd,#0777fd,#0670fd,#0468fe,#035efe,#0154ff,#0049ff,#003eff,#0033ff,#002aff,#0021ff,#0019ff,#0012ff,#000dff,#0008ff,#0005ff,#0002ff)"></div><div style="top:86px;background:linear-gradient(90deg,#0003ff,#0006ff,#0009ff,#000eff,#0013ff,#001aff,#0021ff,#002aff,#0034ff,#003eff,#0048ff,#0152ff,#035cfe,#0464fe,#056bfe,#0671fd,#0675fd,#0777fd,#0776fd,#0674fd,#066ffd,#0569fe,#0361fe,#0258fe,#014eff,#0044ff,#003aff,#0030ff,#0026ff,#001eff,#0017ff,#0011ff,#000cff,#0008ff,#0004ff,#0002ff)"></div><div style="top:87px;background:linear-gradient(90deg,#0002ff,#0005ff,#0008ff,#000cff,#0012ff,#0018ff,#001fff,#0027ff,#0030ff,#0039ff,#0043ff,#004dff,#0255ff,#035dfe,#0464fe,#0569fe,#056dfd,#056ffd,#056efd,#056cfd,#0468fe,#0362fe,#025afe,#0152ff,#0049ff,#003fff,#0035ff,#002cff,#0023ff,#001cff,#0015ff,#000fff,#000bff,#0007ff,#0004ff,#0001ff)"></div><div style="top:88px;background:linear-gradient(90deg,#0002ff,#0004ff,#0007ff,#000bff,#0010ff,#0016ff,#001cff,#0024ff,#002cff,#0035ff,#003eff,#0047ff,#014fff,#0257fe,#035dfe,#0462fe,#0465fe,#0467fe,#0467fe,#0464fe,#0360fe,#025bfe,#0154ff,#004cff,#0043ff,#003aff,#0031ff,#0029ff,#0021ff,#001aff,#0013ff,#000eff,#000aff,#0006ff,#0003ff,#0001ff)"></div><div style="top:89px;background:linear-gradient(90deg,#0001ff,#0003ff,#0006ff,#000aff,#000eff,#0014ff,#001aff,#0021ff,#0028ff,#0031ff,#0039ff,#0041ff,#004aff,#0151ff,#0256fe,#025bfe,#035efe,#0360fe,#035ffe,#035dfe,#0259fe,#0154ff,#004eff,#0046ff,#003eff,#0036ff,#002dff,#0025ff,#001eff,#0017ff,#0012ff,#000dff,#0008ff,#0005ff,#0002ff,#0000ff)"></div><div style="top:90px;background:linear-gradient(90deg,#0001ff,#0003ff,#0006ff,#0009ff,#000dff,#0012ff,#0018ff,#001eff,#0025ff,#002dff,#0034ff,#003cff,#0044ff,#004bff,#0150ff,#0154ff,#0257fe,#0259fe,#0258fe,#0256fe,#0153ff,#004eff,#0048ff,#0041ff,#0039ff,#0031ff,#002aff,#0022ff,#001bff,#0015ff,#0010ff,#000bff,#0007ff,#0004ff,#0002ff,#0000ff)"></div><div style="top:91px;background:linear-gradient(90deg,#0000ff,#0002ff,#0005ff,#0008ff,#000cff,#0010ff,#0015ff,#001bff,#0022ff,#0029ff,#0030ff,#0037ff,#003eff,#0045ff,#004aff,#004eff,#0151ff,#0152ff,#0152ff,#0150ff,#004dff,#0048ff,#0042ff,#003bff,#0034ff,#002dff,#0026ff,#001fff,#0019ff,#0013ff,#000eff,#000aff,#0007ff,#0004ff,#0001ff,#0000ff)"></div><div style="top:92px;background:linear-gradient(90deg,#0000ff,#0002ff,#0004ff,#0007ff,#000aff,#000eff,#0013ff,#0019ff,#001fff,#0025ff,#002cff,#0033ff,#0039ff,#003fff,#0044ff,#0048ff,#004aff,#004bff,#004bff,#0049ff,#0046ff,#0042ff,#003dff,#0036ff,#0030ff,#0029ff,#0023ff,#001cff,#0017ff,#0011ff,#000dff,#0009ff,#0006ff,#0003ff,#0001ff,#0000ff)"></div><div style="top:93px;background:linear-gradient(90deg,#0000ff,#0001ff,#0003ff,#0006ff,#0009ff,#000dff,#0011ff,#0016ff,#001cff,#0022ff,#0028ff,#002eff,#0034ff,#0039ff,#003eff,#0042ff,#0044ff,#0045ff,#0045ff,#0043ff,#0040ff,#003cff,#0037ff,#0032ff,#002cff,#0026ff,#001fff,#001aff,#0014ff,#0010ff,#000bff,#0008ff,#0005ff,#0002ff,#0000ff,#0000ff)"></div><div style="top:94px;background:linear-gradient(90deg,#0000ff,#0001ff,#0003ff,#0005ff,#0008ff,#000bff,#0010ff,#0014ff,#0019ff,#001fff,#0024ff,#002aff,#002fff,#0034ff,#0038ff,#003cff,#003eff,#003fff,#003fff,#003dff,#003bff,#0037ff,#0032ff,#002dff,#0028ff,#0022ff,#001cff,#0017ff,#0012ff,#000eff,#000aff,#0007ff,#0004ff,#0002ff,#0000ff,#0000ff)"></div><div style="top:95px;background:linear-gradient(90deg,#0000ff,#0000ff,#0002ff,#0004ff,#0007ff,#000aff,#000eff,#0012ff,#0017ff,#001cff,#0021ff,#0026ff,#002bff,#002fff,#0033ff,#0036ff,#0038ff,#0039ff,#0039ff,#0038ff,#0035ff,#0032ff,#002eff,#0029ff,#0024ff,#001fff,#001aff,#0015ff,#0010ff,#000cff,#0009ff,#0006ff,#0003ff,#0001ff,#0000ff,#0000ff)"></div><div style="top:96px;background:linear-gradient(90deg,#0000ff,#0000ff,#0001ff,#0003ff,#0006ff,#0009ff,#000cff,#0010ff,#0014ff,#0019ff,#001eff,#0022ff,#0027ff,#002bff,#002eff,#0031ff,#0033ff,#0034ff,#0034ff,#0032ff,#0030ff,#002dff,#0029ff,#0025ff,#0020ff,#001cff,#0017ff,#0013ff,#000eff,#000bff,#0008ff,#0005ff,#0003ff,#0001ff,#0000ff,#0000ff)"></div><div style="top:97px;background:linear-gradient(90deg,#0000ff,#0000ff,#0001ff,#0003ff,#0005ff,#0008ff,#000bff,#000eff,#0012ff,#0016ff,#001bff,#001fff,#0023ff,#0027ff,#002aff,#002dff,#002eff,#002fff,#002fff,#002eff,#002cff,#0029ff,#0025ff,#0021ff,#001dff,#0019ff,#0015ff,#0011ff,#000dff,#0009ff,#0006ff,#0004ff,#0002ff,#0000ff,#0000ff,#0000ff)"></div><div style="top:98px;background:linear-gradient(90deg,#0000ff,#0000ff,#0000ff,#0002ff,#0004ff,#0006ff,#0009ff,#000dff,#0010ff,#0014ff,#0018ff,#001cff,#001fff,#0023ff,#0026ff,#0028ff,#002aff,#002aff,#002aff,#0029ff,#0027ff,#0025ff,#0021ff,#001eff,#001aff,#0016ff,#0012ff,#000fff,#000bff,#0008ff,#0005ff,#0003ff,#0001ff,#0000ff,#0000ff,#0000ff)"></div><div style="top:99px;background:linear-gradient(90deg,#0000ff,#0000ff,#0000ff,#0001ff,#0003ff,#0005ff,#0008ff,#000bff,#000eff,#0012ff,#0015ff,#0019ff,#001cff,#001fff,#0022ff,#0024ff,#0025ff,#0026ff,#0026ff,#0025ff,#0023ff,#0021ff,#001eff,#001bff,#0017ff,#0014ff,#0010ff,#000dff,#000aff,#0007ff,#0004ff,#0002ff,#0001ff,#0000ff,#0000ff,#0000fe)"></div><div style="top:100px;background:linear-gradient(90deg,#0000fe,#0000ff,#0000ff,#0001ff,#0002ff,#0004ff,#0007ff,#0009ff,#000cff,#000fff,#0013ff,#0016ff,#0019ff,#001cff,#001eff,#0020ff,#0021ff,#0022ff,#0022ff,#0021ff,#001fff,#001dff,#001bff,#0018ff,#0015ff,#0011ff,#000eff,#000bff,#0008ff,#0006ff,#0004ff,#0002ff,#0000ff,#0000ff,#0000ff,#0000fe)"></div><div style="top:101px;background:linear-gradient(90deg,#0000fe,#0000ff,#0000ff,#0000ff,#0002ff,#0004ff,#0006ff,#0008ff,#000bff,#000dff,#0010ff,#0013ff,#0016ff,#0019ff,#001bff,#001dff,#001eff,#001eff,#001eff,#001dff,#001cff,#001aff,#0018ff,#0015ff,#0012ff,#000fff,#000cff,#000aff,#0007ff,#0005ff,#0003ff,#0001ff,#0000ff,#0000ff,#0000ff,#0000fe)"></div><div style="top:102px;background:linear-gradient(90deg,#0000fe,#0000ff,#0000ff,#0000ff,#0001ff,#0003ff,#0005ff,#0007ff,#0009ff,#000cff,#000eff,#0011ff,#0013ff,#0016ff,#0018ff,#0019ff,#001aff,#001bff,#001bff,#001aff,#0019ff,#0017ff,#0015ff,#0012ff,#0010ff,#000dff,#000bff,#0008ff,#0006ff,#0004ff,#0002ff,#0000ff,#0000ff,#0000ff,#0000fe,#0000fe)"></div><div style="top:103px;background:linear-gradient(90deg,#0000fe,#0000fe,#0000ff,#0000ff,#0000ff,#0002ff,#0004ff,#0006ff,#0008ff,#000aff,#000cff,#000fff,#0011ff,#0013ff,#0015ff,#0016ff,#0017ff,#0018ff,#0018ff,#0017ff,#0016ff,#0014ff,#0012ff,#0010ff,#000eff,#000bff,#0009ff,#0007ff,#0005ff,#0003ff,#0001ff,#0000ff,#0000ff,#0000ff,#0000fe,#0000fe)"></div></div>
<div class="hm" style="left:289px;top:8px;width:105px;height:104px"><div style="top:0px;background:linear-gradient(90deg,#0026ff,#002fff,#0039ff,#0045ff,#0151ff,#035efe,#056afe,#0777fd,#0984fc,#0b8efb,#0f96f9,#129bf7,#139ff6,#14a1f6,#14a0f6,#139df7,#1099f8,#0d92fa,#0a8afc,#087dfd,#0670fd,#0463fe,#0256fe,#004bff,#0040ff,#0036ff,#002eff,#0028ff,#0022ff,#001eff,#001bff,#0018ff,#0015ff,#0013ff,#0011ff,#000fff)"></div><div style="top:1px;background:linear-gradient(90deg,#0029ff,#0033ff,#003eff,#004aff,#0257fe,#0464fe,#0672fd,#0880fd,#0b8dfc,#0f96f9,#139df7,#16a3f5,#18a7f4,#19a9f3,#18a8f3,#17a5f4,#14a0f6,#1199f8,#0c91fb,#0985fc,#0777fd,#0569fe,#035bfe,#014fff,#0043ff,#0039ff,#0031ff,#002aff,#0024ff,#0020ff,#001cff,#0019ff,#0016ff,#0014ff,#0012ff,#000fff)"></div><div style="top:2px;background:linear-gradient(90deg,#002cff,#0037ff,#0042ff,#014fff,#035dfe,#056bfe,#077afd,#0a89fc,#0e94f9,#139ef7,#17a6f4,#1aacf2,#1cb0f1,#1db2f1,#1db1f1,#1baef2,#18a8f4,#14a0f6,#1097f9,#0a8dfc,#087efd,#066ffd,#0360fe,#0153ff,#0047ff,#003cff,#0033ff,#002cff,#0026ff,#0021ff,#001dff,#001aff,#0017ff,#0015ff,#0012ff,#0010ff)"></div><div style="top:3px;background:linear-gradient(90deg,#002fff,#003bff,#0047ff,#0255ff,#0463fe,#0673fd,#0983fc,#0c91fb,#129cf7,#17a6f4,#1baef2,#1fb5ef,#21b7ed,#22b8ec,#21b7ec,#1fb5ee,#1cb0f1,#18a8f4,#139ef7,#0d93fa,#0985fc,#0675fd,#0465fe,#0257fe,#004bff,#003fff,#0035ff,#002eff,#0028ff,#0023ff,#001fff,#001cff,#0018ff,#0016ff,#0013ff,#0011ff)"></div><div style="top:4px;background:linear-gradient(90deg,#0033ff,#003fff,#004cff,#025bfe,#056afe,#077bfd,#0a8cfc,#1098f8,#16a4f5,#1baef2,#20b6ee,#23b9ea,#25bbe7,#26bce6,#26bce6,#24bae9,#20b6ed,#1cb0f1,#17a5f4,#1199f8,#0a8dfc,#077bfd,#056bfe,#035cfe,#004eff,#0042ff,#0038ff,#0030ff,#002aff,#0024ff,#0020ff,#001dff,#001aff,#0017ff,#0014ff,#0012ff)"></div><div style="top:5px;background:linear-gradient(90deg,#0036ff,#0043ff,#0151ff,#0360fe,#0671fd,#0983fc,#0d93fa,#14a0f6,#1aacf2,#20b6ee,#24bae8,#28bee3,#2ac0e1,#2bc1e0,#2bc1e0,#28bee3,#25bbe8,#20b6ee,#1aacf2,#149ff6,#0d92fa,#0882fc,#0670fd,#0360fe,#0152ff,#0046ff,#003bff,#0032ff,#002cff,#0026ff,#0022ff,#001eff,#001bff,#0018ff,#0015ff,#0012ff)"></div><div style="top:6px;background:linear-gradient(90deg,#003aff,#0048ff,#0256fe,#0467fe,#0779fd,#0a8bfc,#119af8,#18a7f4,#1eb4f0,#24bae8,#29bfe2,#2dc3dd,#2fc5da,#30c6d9,#2fc5da,#2dc3dd,#29bfe2,#24bae9,#1eb4f0,#17a6f4,#1098f8,#0989fc,#0776fd,#0465fe,#0256fe,#0049ff,#003eff,#0035ff,#002eff,#0028ff,#0024ff,#0020ff,#001cff,#0019ff,#0016ff,#0013ff)"></div><div style="top:7px;background:linear-gradient(90deg,#003eff,#004cff,#035cfe,#056dfd,#0880fd,#0d92fa,#14a1f6,#1caff1,#23b9ea,#29bfe2,#2ec4dc,#32c8d7,#37c9d1,#39cacf,#37c9d1,#32c8d7,#2ec4dc,#28bee3,#22b8ec,#1aadf2,#139df7,#0b8ffb,#077cfd,#056afe,#025afe,#004dff,#0041ff,#0038ff,#0030ff,#002aff,#0025ff,#0021ff,#001dff,#001aff,#0017ff,#0014ff)"></div><div style="top:8px;background:linear-gradient(90deg,#0042ff,#0151ff,#0361fe,#0674fd,#0988fc,#1099f8,#18a8f4,#20b6ee,#27bde5,#2ec4dc,#34c9d4,#3dcbcb,#42ccc5,#43ccc4,#41ccc6,#3bcacc,#32c8d6,#2cc2de,#25bbe7,#1eb3f0,#16a3f5,#0e94fa,#0882fc,#056ffd,#035efe,#0150ff,#0044ff,#003aff,#0033ff,#002dff,#0027ff,#0023ff,#001fff,#001bff,#0018ff,#0015ff)"></div><div style="top:9px;background:linear-gradient(90deg,#0046ff,#0256ff,#0467fe,#077bfd,#0c8ffb,#149ff6,#1cb0f1,#24bae8,#2cc2df,#33c8d6,#3fcbc9,#47cdbf,#4ccfb9,#4ecfb8,#4bceba,#45cdc1,#3ccacc,#31c7d9,#29bfe2,#21b7ec,#19a9f3,#1099f8,#0988fc,#0674fd,#0462fe,#0154ff,#0048ff,#003dff,#0035ff,#002fff,#0029ff,#0024ff,#0020ff,#001cff,#0018ff,#0015ff)"></div><div style="top:10px;background:linear-gradient(90deg,#004aff,#025bfe,#056dfd,#0882fc,#0f95f9,#17a6f4,#20b6ee,#28bee3,#31c7d9,#3dcbca,#49cebd,#52d0b3,#57d1ad,#58d2ac,#56d1af,#4fcfb6,#45cdc2,#38c9d0,#2dc3dd,#25bbe8,#1caff1,#139ef7,#0b8dfc,#0779fd,#0467fe,#0258fe,#004bff,#0041ff,#0038ff,#0032ff,#002bff,#0026ff,#0021ff,#001dff,#001aff,#0016ff)"></div><div style="top:11px;background:linear-gradient(90deg,#014eff,#0360fe,#0674fd,#0a8afc,#129bf7,#1baef2,#24bae9,#2dc3dd,#39cacf,#48cdbf,#54d0b1,#5dd2a8,#62d3a4,#64d3a3,#60d3a5,#59d2ab,#4ecfb7,#40ccc7,#31c7d8,#28bee3,#1fb5ef,#16a3f5,#0d92fa,#087ffd,#056cfd,#035cfe,#014fff,#0044ff,#003bff,#0034ff,#002eff,#0028ff,#0023ff,#001eff,#001bff,#0017ff)"></div><div style="top:12px;background:linear-gradient(90deg,#0153ff,#0465fe,#077afd,#0c90fb,#15a2f5,#1eb4ef,#28bee3,#31c7d8,#42ccc4,#52d0b3,#5fd3a7,#68d4a0,#6ed59c,#6fd59b,#6bd49e,#63d3a3,#57d1ad,#49cebd,#38c9d1,#2bc1df,#22b8eb,#18a8f3,#0f97f9,#0984fc,#0671fd,#0360fe,#0153ff,#0048ff,#003fff,#0037ff,#0030ff,#002aff,#0024ff,#0020ff,#001cff,#0018ff)"></div><div style="top:13px;background:linear-gradient(90deg,#0257fe,#056afe,#0880fd,#0f95f9,#18a8f3,#22b8eb,#2cc2de,#3acace,#4ccfb9,#5cd2a8,#6ad49f,#74d698,#79d694,#7ad793,#76d696,#6dd59c,#61d3a5,#51d0b4,#3fcbc8,#2fc5db,#25bbe8,#1baef2,#129bf7,#0a8afc,#0776fd,#0465fe,#0257fe,#004cff,#0042ff,#003aff,#0032ff,#002cff,#0026ff,#0021ff,#001dff,#0019ff)"></div><div style="top:14px;background:linear-gradient(90deg,#035bfe,#0670fd,#0987fc,#129bf7,#1caff1,#26bce6,#31c7d9,#43ccc3,#56d1ae,#67d4a1,#75d697,#7fd790,#83d78c,#84d78b,#80d78f,#77d695,#6ad49f,#59d2ab,#47cdc0,#32c8d7,#28bee4,#1eb3f0,#14a0f6,#0b8ffb,#077bfd,#056afe,#035bfe,#0150ff,#0046ff,#003dff,#0035ff,#002eff,#0028ff,#0023ff,#001eff,#001aff)"></div><div style="top:15px;background:linear-gradient(90deg,#0360fe,#0776fd,#0b8dfc,#14a1f6,#1fb5ef,#2ac0e1,#38c9d1,#4dcfb9,#60d3a5,#72d599,#80d78f,#88d788,#8dd884,#8dd884,#89d787,#80d78e,#73d698,#61d3a5,#4ecfb8,#39cacf,#2bc1e0,#20b6ed,#16a5f5,#0e93fa,#0880fd,#056ffd,#0360fe,#0154ff,#004aff,#0040ff,#0037ff,#0030ff,#002aff,#0024ff,#001fff,#001bff)"></div><div style="top:16px;background:linear-gradient(90deg,#0465fe,#077bfd,#0d92fa,#17a7f4,#22b8eb,#2ec4dc,#40ccc7,#56d1ae,#6bd49e,#7dd791,#89d787,#91d880,#96d87c,#95d87d,#91d880,#88d788,#7cd792,#69d49f,#55d1b0,#3fcbc8,#2dc3dd,#23b9ea,#19a9f3,#1097f9,#0986fc,#0674fd,#0465fe,#0259fe,#004eff,#0044ff,#003aff,#0032ff,#002cff,#0026ff,#0021ff,#001cff)"></div><div style="top:17px;background:linear-gradient(90deg,#0569fe,#0881fd,#1098f9,#1aadf2,#26bce6,#32c8d7,#49cebd,#60d3a6,#75d697,#86d78a,#92d87f,#9ad878,#9fd875,#9ed876,#99d87a,#90d881,#83d78c,#71d59a,#5bd2a9,#45cdc2,#30c6d9,#25bbe7,#1baef2,#129cf7,#0a8cfc,#0779fd,#056afe,#035efe,#0152ff,#0047ff,#003dff,#0035ff,#002eff,#0028ff,#0022ff,#001eff)"></div><div style="top:18px;background:linear-gradient(90deg,#056efd,#0987fc,#129df7,#1db3f0,#29bfe2,#39cacf,#51d0b4,#69d49f,#7fd78f,#8fd882,#9bd878,#a3d772,#a7d76f,#a6d770,#a1d874,#97d87c,#89d787,#78d695,#62d3a5,#4bcebb,#34c8d5,#28bee4,#1db3f0,#14a0f6,#0c90fb,#087ffd,#0670fd,#0463fe,#0256fe,#004bff,#0040ff,#0038ff,#0030ff,#0029ff,#0024ff,#001fff)"></div><div style="top:19px;background:linear-gradient(90deg,#0673fd,#0a8dfc,#15a2f5,#20b6ed,#2dc3de,#41ccc6,#5ad2aa,#73d698,#87d788,#97d87b,#a4d772,#acd76c,#afd76a,#aed76b,#a8d76f,#9dd877,#8fd882,#7ed790,#67d4a0,#50cfb5,#39cad0,#2ac0e1,#20b6ee,#16a5f5,#0e95f9,#0985fc,#0776fd,#0468fe,#025bfe,#014fff,#0044ff,#003aff,#0032ff,#002bff,#0025ff,#0020ff)"></div><div style="top:20px;background:linear-gradient(90deg,#0778fd,#0c91fb,#17a7f4,#23b9e9,#30c6d9,#49cebe,#63d3a4,#7cd792,#90d881,#a0d874,#acd76c,#b4d666,#b7d664,#b5d666,#aed76a,#a3d772,#94d87e,#83d78c,#6dd59d,#55d1b0,#3dcbcb,#2cc2de,#22b8eb,#19a9f3,#1199f8,#0a8cfc,#087cfd,#056dfd,#035ffe,#0152ff,#0047ff,#003dff,#0035ff,#002eff,#0027ff,#0022ff)"></div><div style="top:21px;background:linear-gradient(90deg,#087dfd,#0f95f9,#1aacf2,#26bce5,#35c9d3,#50d0b5,#6cd59d,#84d78b,#98d87b,#a8d76f,#b4d666,#bcd560,#bfd55d,#bcd660,#b4d666,#a8d76f,#99d87a,#87d789,#71d599,#59d2ab,#41ccc6,#2ec4dc,#24bae8,#1baef2,#139ef7,#0c91fb,#0983fc,#0673fd,#0464fe,#0256fe,#004bff,#0041ff,#0038ff,#0030ff,#0029ff,#0023ff)"></div><div style="top:22px;background:linear-gradient(90deg,#0882fc,#119af8,#1db1f1,#29bfe2,#3ccbcc,#58d1ac,#74d697,#8cd785,#a0d875,#b0d769,#bcd560,#c4d358,#c6d256,#c2d35a,#b9d663,#add76b,#9dd877,#8ad786,#75d697,#5cd2a8,#45cdc2,#30c6d9,#26bce6,#1db2f1,#15a3f5,#0f96f9,#0a89fc,#0778fd,#0569fe,#025bfe,#014fff,#0044ff,#003bff,#0032ff,#002bff,#0025ff)"></div><div style="top:23px;background:linear-gradient(90deg,#0987fc,#139ef7,#1fb5ef,#2cc2de,#43ccc4,#5fd3a6,#7cd791,#93d87e,#a7d76f,#b8d664,#c4d358,#cbd051,#ccd050,#c7d255,#bdd55f,#b0d769,#a0d875,#8dd884,#78d694,#5fd3a6,#48cebe,#32c8d7,#28bee3,#1fb5ee,#18a8f4,#119bf8,#0b8ffb,#087efd,#056efd,#035ffe,#0153ff,#0048ff,#003eff,#0035ff,#002dff,#0026ff)"></div><div style="top:24px;background:linear-gradient(90deg,#0a8bfc,#15a2f5,#22b8eb,#2fc5da,#49cebd,#67d4a1,#83d78c,#9ad879,#afd76a,#bfd45d,#cbd051,#d2ce4a,#d2ce4a,#ccd050,#c1d45b,#b3d667,#a2d873,#8fd882,#7ad793,#62d3a4,#4bcebb,#35c9d3,#2ac0e1,#22b8ec,#1aadf2,#14a0f6,#0e93fa,#0984fc,#0673fd,#0464fe,#0257fe,#004cff,#0041ff,#0037ff,#002fff,#0028ff)"></div><div style="top:25px;background:linear-gradient(90deg,#0b8ffb,#17a6f4,#24bae8,#32c8d7,#50cfb6,#6ed59b,#8ad786,#a1d874,#b6d665,#c7d255,#d2ce4a,#d7cc45,#d6cd46,#cfcf4d,#c4d358,#b4d666,#a3d772,#90d881,#7cd792,#63d3a3,#4dcfb9,#38c9d0,#2cc2df,#24bae9,#1db2f1,#17a5f4,#1098f8,#0a8afc,#0779fd,#0569fe,#035cfe,#0150ff,#0044ff,#003aff,#0031ff,#002aff)"></div><div style="top:26px;background:linear-gradient(90deg,#0d92fa,#19aaf3,#26bce5,#38c9d0,#56d1af,#75d696,#90d881,#a8d76f,#bcd560,#cdd04f,#d7cc45,#d9c942,#d8ca43,#d2ce4a,#c5d257,#b5d666,#a3d772,#90d881,#7cd792,#64d3a3,#4ecfb7,#3acace,#2dc3dd,#26bce6,#1fb5ee,#19abf3,#129df7,#0b8ffb,#087ffd,#066ffd,#0361fe,#0154ff,#0048ff,#003dff,#0034ff,#002cff)"></div><div style="top:27px;background:linear-gradient(90deg,#0f96f9,#1baef2,#29bfe3,#3dcbca,#5cd2a9,#7cd792,#96d87c,#aed76a,#c3d359,#d3ce49,#dac841,#dcc63f,#dac942,#d3ce49,#c5d257,#b5d666,#a3d873,#8fd882,#7bd792,#64d3a3,#4fcfb7,#3ccbcc,#2fc5db,#28bee4,#22b8eb,#1cb0f1,#15a1f6,#0e94fa,#0985fc,#0675fd,#0466fe,#0258fe,#004cff,#0041ff,#0036ff,#002eff)"></div><div style="top:28px;background:linear-gradient(90deg,#1099f8,#1db2f1,#2bc1e0,#42ccc5,#62d3a4,#82d78d,#9cd877,#b4d666,#c9d153,#d8cb44,#dcc53e,#ddc43d,#dac840,#d3ce49,#c4d358,#b3d667,#a1d874,#8dd883,#79d694,#63d3a4,#4fcfb7,#3dcbca,#30c6d9,#2ac0e1,#25bbe8,#1eb4f0,#17a6f4,#1098f8,#0a8bfc,#077bfd,#056bfe,#035dfe,#0150ff,#0044ff,#0039ff,#0030ff)"></div><div style="top:29px;background:linear-gradient(90deg,#129cf7,#1fb5ef,#2dc3dd,#47cdbf,#68d4a0,#87d789,#a2d873,#bad662,#cfcf4d,#dac841,#dec33b,#dfc33b,#dbc740,#d2ce4a,#c2d35a,#b0d769,#9ed876,#8bd786,#77d696,#61d3a5,#4ecfb7,#3ecbc9,#31c7d8,#2cc2df,#27bde5,#21b7ed,#19abf3,#139df7,#0c91fb,#0881fd,#0671fd,#0462fe,#0154ff,#0048ff,#003cff,#0032ff)"></div><div style="top:30px;background:linear-gradient(90deg,#139ff6,#21b7ed,#2fc5da,#4cceba,#6dd59c,#8cd884,#a7d770,#bfd45d,#d4ce48,#ddc53e,#e0c139,#dfc23b,#dbc840,#d0cf4c,#bfd45d,#add76b,#9ad879,#87d789,#73d698,#5ed3a7,#4dcfb9,#3ecbc9,#33c8d6,#2ec4dc,#29bfe2,#23b9ea,#1cb0f1,#15a3f5,#0f96f9,#0988fc,#0777fd,#0467fe,#0258fe,#004bff,#003fff,#0034ff)"></div><div style="top:31px;background:linear-gradient(90deg,#15a1f6,#22b8eb,#31c7d8,#50d0b5,#72d599,#91d881,#acd76c,#c4d358,#d7cb44,#dfc33b,#e1c038,#dfc23a,#dac941,#cdd04f,#bbd661,#a8d76f,#95d87d,#82d78d,#6ed59c,#5ad2aa,#4bcebb,#3ecbc9,#35c9d4,#30c6da,#2bc1df,#25bbe7,#1fb5ef,#18a8f4,#129bf7,#0b8efb,#087dfd,#056dfd,#035dfe,#014fff,#0042ff,#0037ff)"></div><div style="top:32px;background:linear-gradient(90deg,#16a4f5,#24bae9,#34c9d5,#55d1b0,#77d695,#95d87d,#b0d769,#c9d153,#d9c942,#e0c139,#e2bf37,#dfc23b,#d8ca43,#c9d153,#b6d665,#a2d873,#8fd882,#7dd791,#68d4a0,#56d1af,#48cdbe,#3dcbca,#36c9d2,#31c7d8,#2dc3dd,#27bde5,#21b7ec,#1baef2,#14a1f6,#0e94fa,#0984fc,#0672fd,#0362fe,#0153ff,#0045ff,#0039ff)"></div><div style="top:33px;background:linear-gradient(90deg,#17a7f4,#25bbe7,#38c9d1,#58d2ac,#7bd792,#99d87a,#b4d666,#cdd04f,#dbc73f,#e1c038,#e2bf37,#dec33c,#d7cc45,#c4d358,#b0d769,#9cd877,#89d787,#75d697,#61d3a5,#51d0b4,#44cdc2,#3ccbcc,#37c9d1,#33c8d5,#2fc5db,#29bfe2,#24bae9,#1eb4f0,#17a7f4,#1199f8,#0a8bfc,#0778fd,#0467fe,#0257fe,#0049ff,#003cff)"></div><div style="top:34px;background:linear-gradient(90deg,#18a9f3,#27bde5,#3bcacd,#5cd2a9,#7fd78f,#9cd877,#b7d664,#d0cf4c,#ddc53d,#e2bf37,#e2bf37,#ddc43d,#d3ce49,#bed55e,#a9d76e,#95d87d,#81d78e,#6dd59d,#5ad2aa,#4bcebb,#40ccc7,#3bcacd,#38cad0,#36c9d3,#30c6d9,#2cc2df,#27bde5,#21b7ec,#1badf2,#149ff6,#0c91fb,#087ffd,#056cfd,#025bfe,#004cff,#003eff)"></div><div style="top:35px;background:linear-gradient(90deg,#1aabf3,#28bee4,#3ecbca,#5fd3a6,#82d78d,#9fd875,#bad662,#d3ce49,#dec43c,#e2be36,#e2bf38,#dcc63f,#ced04e,#b8d664,#a2d873,#8dd884,#78d694,#63d3a3,#52d0b3,#44cdc2,#3ccacc,#39cad0,#39cacf,#37c9d1,#32c8d8,#2ec4dc,#2ac0e1,#24bae8,#1eb4f0,#17a5f4,#0f96f9,#0985fc,#0671fd,#035ffe,#014fff,#0041ff)"></div><div style="top:36px;background:linear-gradient(90deg,#1aadf2,#29bfe2,#40ccc7,#62d3a4,#85d78b,#a2d873,#bdd55f,#d5cd47,#dfc33b,#e3be36,#e1c039,#dac941,#c9d153,#b1d768,#9ad879,#84d78b,#6ed59c,#59d2ab,#49cebd,#3dcbca,#37c9d1,#36c9d2,#39cacf,#38c9d1,#34c9d4,#31c7d9,#2dc3dd,#28bee4,#21b7ec,#1aabf3,#129cf7,#0a8cfc,#0777fd,#0464fe,#0153ff,#0044ff)"></div><div style="top:37px;background:linear-gradient(90deg,#1baff2,#2ac0e1,#42ccc5,#65d4a2,#87d789,#a4d771,#c0d45c,#d7cc45,#dfc23a,#e2be36,#e0c13a,#d8cb44,#c3d359,#aad76d,#92d880,#7ad793,#63d3a4,#4fcfb6,#40cbc7,#36c9d3,#32c8d7,#34c8d5,#38cad0,#38cad0,#38c9d1,#35c9d4,#30c6d9,#2bc1e0,#25bbe8,#1db2f1,#15a1f6,#0c91fb,#087cfd,#0468fe,#0256fe,#0047ff)"></div><div style="top:38px;background:linear-gradient(90deg,#1cb0f1,#2bc1e0,#44cdc2,#67d4a1,#89d787,#a6d770,#c1d45b,#d7cb44,#e0c23a,#e2bf37,#dec33c,#d4ce48,#bdd55f,#a3d772,#89d787,#6fd59b,#57d1ad,#45cdc2,#36c9d2,#30c6da,#2fc5db,#31c7d8,#37c9d1,#39cacf,#3bcacd,#3acace,#35c9d4,#2fc5db,#28bee3,#20b6ed,#18a7f4,#0f96f9,#0882fc,#056dfd,#025afe,#0049ff)"></div><div style="top:39px;background:linear-gradient(90deg,#1db1f1,#2cc2df,#46cdc1,#69d49f,#8ad786,#a8d76f,#c3d359,#d8cb44,#dfc23a,#e1c038,#ddc53e,#d0cf4c,#b6d665,#9bd878,#80d78e,#64d3a3,#4ccfba,#3acace,#2fc5da,#2cc2df,#2cc2de,#30c6d9,#35c9d4,#3acacd,#3fcbc9,#40cbc8,#3ccacc,#33c8d6,#2cc2df,#24bae9,#1badf2,#129bf7,#0988fc,#0671fd,#035dfe,#004cff)"></div><div style="top:40px;background:linear-gradient(90deg,#1db2f0,#2cc2de,#47cdbf,#6ad49f,#8bd785,#a9d76e,#c3d359,#d8cb44,#dfc23b,#e0c139,#dbc740,#cbd151,#b0d769,#94d87e,#76d696,#58d2ac,#41ccc6,#30c6d9,#2ac0e1,#28bee4,#29bfe2,#2ec4dc,#33c8d6,#3ccacc,#43ccc4,#46cdc1,#43ccc4,#3bcacd,#30c6da,#27bde4,#1eb4f0,#14a0f6,#0b8efc,#0776fd,#0361fe,#014fff)"></div><div style="top:41px;background:linear-gradient(90deg,#1eb3f0,#2dc3de,#48cdbe,#6bd49e,#8cd884,#a9d76e,#c4d358,#d8cb44,#dec33b,#dfc23b,#d9ca42,#c6d256,#aad76d,#8cd884,#6cd59d,#4dcfb8,#35c9d3,#2bc1e0,#25bbe7,#24bae9,#27bde5,#2cc2de,#32c8d7,#3ecbca,#47cdbf,#4cceba,#4acebc,#42ccc4,#35c9d4,#2bc1e0,#21b7ec,#17a6f4,#0d92fa,#077bfd,#0465fe,#0152ff)"></div><div style="top:42px;background:linear-gradient(90deg,#1eb4f0,#2dc3dd,#48cebe,#6bd49e,#8cd884,#a9d76e,#c3d359,#d7cc44,#dec43d,#dec43d,#d7cc45,#c1d45b,#a4d771,#85d78a,#62d3a4,#42ccc4,#2ec4dc,#26bce6,#21b7ed,#20b6ee,#24bae9,#2ac0e1,#31c7d8,#40cbc7,#4ccfba,#52d0b2,#52d0b3,#4acebc,#3dcbcb,#2ec4db,#24bae8,#19abf3,#0f96f9,#0880fd,#0568fe,#0154ff)"></div><div style="top:43px;background:linear-gradient(90deg,#1eb4f0,#2dc3dd,#49cebe,#6bd49e,#8cd884,#a9d76e,#c2d35a,#d6cc45,#dcc53e,#dcc63f,#d4ce48,#bcd560,#9fd875,#7ed790,#58d2ac,#38cad0,#29bfe3,#20b6ed,#1cb0f1,#1cb0f1,#21b7ec,#28bee3,#31c7d8,#43ccc4,#51d0b4,#59d2ab,#5ad2aa,#52d0b2,#45cdc2,#32c8d7,#27bde4,#1cb0f1,#119bf8,#0984fc,#056cfd,#0257fe)"></div><div style="top:44px;background:linear-gradient(90deg,#1eb4f0,#2dc3dd,#48cebe,#6bd49e,#8cd785,#a8d76f,#c1d45b,#d5cd47,#dbc740,#dac841,#cfcf4d,#b7d664,#99d87a,#77d696,#50cfb6,#30c6d9,#24bae9,#1caff1,#18a7f4,#18a9f3,#1fb5ef,#27bde5,#31c7d8,#46cdc1,#57d1ae,#61d3a5,#62d3a4,#5bd2aa,#4ccfb9,#39cacf,#2ac0e0,#1fb5ef,#139ff6,#0a89fc,#066ffd,#025afe)"></div><div style="top:45px;background:linear-gradient(90deg,#1eb4f0,#2dc3de,#48cdbf,#6ad49f,#8bd786,#a6d770,#bfd45d,#d2ce4a,#d9c942,#d8cb43,#cbd051,#b2d667,#94d87e,#6fd59b,#48cdbf,#2cc2df,#1fb5ef,#17a6f4,#139ff6,#15a3f5,#1cb0f1,#26bce6,#32c8d7,#4acebc,#5dd2a8,#68d4a0,#6ad49e,#63d3a3,#54d1b0,#40ccc7,#2ec4dd,#21b7ec,#16a3f5,#0b8dfc,#0673fd,#035cfe)"></div><div style="top:46px;background:linear-gradient(90deg,#1eb3f0,#2cc2de,#47cdc0,#69d4a0,#89d787,#a5d771,#bdd55f,#d0cf4c,#d7cb44,#d6cd46,#c7d255,#aed76a,#8fd882,#69d49f,#40ccc7,#28bee4,#1aadf2,#139ef7,#1098f9,#139df7,#1aacf2,#25bbe7,#34c8d5,#4ecfb7,#63d3a3,#70d59a,#73d698,#6cd59d,#5cd2a8,#47cdbf,#31c7d9,#24bae9,#18a7f4,#0c90fb,#0776fd,#035ffe)"></div><div style="top:47px;background:linear-gradient(90deg,#1db2f0,#2cc2df,#45cdc1,#67d4a1,#87d789,#a2d873,#bad662,#ccd050,#d5cd47,#d2ce4a,#c2d35a,#aad76e,#8ad786,#63d3a4,#3acace,#24bae9,#17a5f4,#0f96f9,#0d91fa,#1099f8,#19a9f3,#25bbe7,#37c9d2,#53d0b2,#6ad49f,#78d695,#7bd792,#74d697,#64d3a3,#4ecfb7,#35c9d3,#26bce5,#1aabf3,#0e94fa,#077afd,#0361fe)"></div><div style="top:48px;background:linear-gradient(90deg,#1db1f1,#2bc1e0,#43ccc3,#64d3a3,#85d78a,#a0d875,#b6d665,#c8d154,#d1cf4b,#cdd04f,#bed55e,#a5d771,#86d78a,#5dd2a8,#34c9d4,#21b7ec,#139ff6,#0c90fb,#0a8cfc,#0e94fa,#18a8f4,#26bce6,#3acace,#58d2ac,#71d59a,#80d78f,#83d78c,#7dd791,#6cd59d,#55d1b0,#3bcacd,#29bfe2,#1caff1,#0f97f9,#087dfd,#0463fe)"></div><div style="top:49px;background:linear-gradient(90deg,#1cb0f1,#2ac0e1,#41ccc6,#62d3a4,#82d78d,#9cd877,#b3d667,#c4d358,#ccd050,#c9d153,#b9d663,#a1d874,#82d78d,#59d2ab,#31c7d8,#1fb5ef,#119af8,#0a8afc,#0987fc,#0d92fa,#18a8f4,#27bde5,#3ecbc9,#5ed3a7,#78d694,#87d789,#8ad786,#84d78c,#74d698,#5cd2a9,#41ccc7,#2bc1e0,#1db3f0,#1199f8,#0880fd,#0466fe)"></div><div style="top:50px;background:linear-gradient(90deg,#1baef2,#29bfe2,#3fcbc8,#5fd3a7,#7fd78f,#99d87a,#afd76a,#bfd45d,#c7d255,#c4d358,#b5d666,#9dd877,#7ed790,#55d1b0,#2fc5db,#1db2f1,#0f96f9,#0985fc,#0983fc,#0c91fb,#18a9f3,#29bfe3,#43ccc4,#65d4a2,#7fd78f,#8dd883,#91d880,#8ad786,#7bd792,#62d3a4,#46cdc1,#2dc3dd,#1fb5ef,#129cf7,#0983fc,#0468fe)"></div><div style="top:51px;background:linear-gradient(90deg,#1aadf2,#28bee3,#3ccbcc,#5bd2a9,#7bd792,#95d87d,#aad76d,#bad662,#c2d45a,#bed55e,#b0d769,#99d87a,#7ad793,#51d0b4,#2ec4dd,#1baff2,#0e94fa,#0882fc,#0881fd,#0d91fa,#1aabf3,#2bc1e0,#48cebe,#6bd49e,#86d78a,#94d87e,#98d87b,#91d880,#81d78d,#68d4a0,#4bcebb,#2fc5da,#21b7ed,#139ff6,#0985fc,#056afe)"></div><div style="top:52px;background:linear-gradient(90deg,#19abf3,#27bde5,#39cacf,#57d1ad,#77d696,#90d881,#a5d771,#b5d666,#bcd560,#b9d663,#acd76c,#95d87d,#76d696,#4ecfb8,#2cc2de,#1badf2,#0d92fa,#0881fd,#0881fd,#0d93fa,#1baff2,#2dc3dd,#4ecfb7,#72d599,#8cd884,#9bd878,#9ed876,#97d87b,#87d789,#6ed59c,#50cfb6,#31c7d8,#22b8eb,#14a1f6,#0987fc,#056bfe)"></div><div style="top:53px;background:linear-gradient(90deg,#18a8f3,#25bbe7,#36c9d3,#53d0b2,#72d599,#8bd785,#a0d874,#afd76a,#b6d665,#b3d667,#a7d770,#91d881,#72d599,#4bcebb,#2bc1df,#1aacf2,#0d92fa,#0881fd,#0983fc,#0f96f9,#1db3f0,#30c6da,#55d1b0,#7ad793,#93d87f,#a2d873,#a5d771,#9dd877,#8cd884,#73d698,#54d0b1,#34c9d5,#24bae9,#15a3f5,#0a8afc,#056dfd)"></div><div style="top:54px;background:linear-gradient(90deg,#17a6f4,#24bae9,#32c8d7,#4fcfb7,#6cd59d,#86d789,#9ad879,#a9d76e,#b0d769,#aed76b,#a2d873,#8cd884,#6ed59c,#48cebe,#2ac0e0,#1aabf3,#0d92fa,#0983fc,#0987fc,#119af8,#20b6ee,#33c8d5,#5bd2a9,#81d78e,#99d879,#a8d76f,#abd76d,#a3d873,#91d880,#78d694,#58d1ad,#37c9d1,#25bbe7,#16a5f5,#0a8bfc,#056efd)"></div><div style="top:55px;background:linear-gradient(90deg,#16a3f5,#22b8eb,#30c6da,#4acebc,#66d4a1,#81d78e,#94d87e,#a3d873,#aad76e,#a8d76f,#9cd877,#88d788,#6ad49e,#46cdc0,#2ac0e1,#1aabf3,#0e93fa,#0988fc,#0b8efb,#149ff6,#23b9ea,#3acace,#63d3a4,#87d789,#a0d875,#afd76a,#b1d768,#a8d76f,#96d87d,#7dd791,#5bd2a9,#3acace,#26bce6,#17a6f4,#0a8dfc,#066ffd)"></div><div style="top:56px;background:linear-gradient(90deg,#14a1f6,#21b7ed,#2ec4dc,#45cdc2,#60d3a6,#7bd793,#8ed883,#9cd877,#a3d772,#a1d874,#97d87c,#84d78b,#66d4a1,#44ccc3,#29bfe2,#1aacf2,#0f95f9,#0b8ffb,#0e95f9,#17a7f4,#27bde5,#42ccc5,#6bd49e,#8ed883,#a6d770,#b5d666,#b6d664,#add76b,#99d879,#80d78e,#5ed3a7,#3ccbcc,#27bde5,#18a8f4,#0b8efc,#0670fd)"></div><div style="top:57px;background:linear-gradient(90deg,#139ef7,#1fb5ef,#2bc1df,#3fcbc8,#5ad2aa,#73d698,#87d788,#95d87d,#9cd877,#9bd878,#91d880,#7fd78f,#63d3a4,#42ccc5,#29bfe2,#1badf2,#1099f8,#0f96f9,#139df7,#1caff1,#2bc1e0,#4acebc,#73d698,#94d87e,#add76b,#bad662,#bcd560,#b1d768,#9dd877,#83d78c,#61d3a5,#3ecbc9,#27bde4,#18a9f3,#0b8efb,#0671fd)"></div><div style="top:58px;background:linear-gradient(90deg,#119bf8,#1db2f1,#29bfe2,#3acace,#53d0b2,#6cd59d,#80d78e,#8ed883,#95d87d,#94d87e,#8bd785,#7ad793,#5fd3a6,#40ccc7,#29bfe2,#1cb0f1,#139ff6,#139ef7,#18a7f4,#21b7ec,#30c6da,#53d0b2,#7cd792,#9bd878,#b3d667,#c0d45c,#c1d45b,#b5d666,#a0d874,#85d78a,#63d3a4,#40cbc8,#28bee3,#19a9f3,#0b8ffb,#0671fd)"></div><div style="top:59px;background:linear-gradient(90deg,#1097f9,#1badf2,#27bde5,#34c9d5,#4dcfb9,#64d3a3,#79d694,#86d789,#8dd883,#8dd883,#85d78a,#75d697,#5bd2a9,#3fcbc9,#2ac0e1,#1db3f0,#17a6f4,#18a8f4,#1db3f0,#27bde5,#38cad0,#5dd2a8,#84d78b,#a2d873,#b9d663,#c6d256,#c6d256,#b8d663,#a3d873,#87d789,#65d4a2,#41ccc6,#28bee3,#19aaf3,#0c8ffb,#0671fd)"></div><div style="top:60px;background:linear-gradient(90deg,#0e94fa,#19a9f3,#24bae8,#30c6d9,#46cdc1,#5cd2a9,#70d59a,#7fd790,#86d78a,#86d789,#7fd78f,#6fd59b,#58d1ad,#3dcbca,#2ac0e1,#1fb5ee,#1baff2,#1db3f0,#23b9e9,#2dc3dd,#44cdc2,#68d4a0,#8cd785,#a9d76e,#c0d45c,#cbd051,#cad152,#bbd661,#a5d771,#88d788,#66d4a2,#41ccc6,#29bfe3,#19aaf3,#0c8ffb,#0671fd)"></div><div style="top:61px;background:linear-gradient(90deg,#0c91fb,#17a5f4,#22b8ec,#2dc3dd,#3fcbc9,#54d1b1,#67d4a1,#76d696,#7ed790,#7fd78f,#78d694,#69d49f,#54d1b0,#3ccbcb,#2bc1df,#22b8eb,#20b6ed,#23b9e9,#2ac0e1,#35c9d3,#51d0b4,#74d698,#94d87e,#b0d769,#c6d256,#d0cf4c,#cdd04f,#bdd55f,#a6d770,#89d787,#66d4a1,#42ccc6,#29bfe3,#19aaf3,#0c8ffb,#0671fd)"></div><div style="top:62px;background:linear-gradient(90deg,#0b8dfc,#14a1f6,#1fb5ef,#2ac0e1,#38c9d1,#4ccfba,#5ed3a7,#6cd59d,#75d697,#77d695,#71d59a,#64d3a3,#51d0b4,#3ccacc,#2cc2de,#26bce6,#25bbe7,#2ac0e2,#31c7d9,#43ccc3,#5ed3a7,#7fd78f,#9dd877,#b7d664,#ccd050,#d4ce48,#d0cf4c,#bfd45d,#a7d770,#89d787,#66d4a1,#41ccc6,#28bee3,#19aaf3,#0b8ffb,#0671fd)"></div><div style="top:63px;background:linear-gradient(90deg,#0989fc,#129cf7,#1cb0f1,#27bde5,#31c7d8,#44ccc3,#55d1b0,#63d3a4,#6cd59d,#6ed59c,#69d49f,#5ed3a7,#4ecfb8,#3bcacd,#2dc3dd,#2ac0e1,#2bc1e0,#30c6d9,#3ecbca,#52d0b3,#6cd59d,#8ad786,#a6d770,#bfd45d,#d1ce4b,#d7cc44,#d2ce4a,#c0d45c,#a7d76f,#89d787,#65d4a2,#41ccc7,#28bee4,#18a9f3,#0b8efb,#0670fd)"></div><div style="top:64px;background:linear-gradient(90deg,#0984fc,#1098f8,#1aabf3,#23b9e9,#2dc3dd,#3ccacc,#4ccfb9,#59d2ab,#62d3a4,#65d4a2,#62d3a4,#58d2ac,#4bcebb,#3bcacd,#2fc5da,#2ec4dc,#31c7d9,#3bcacd,#4cceba,#61d3a5,#7bd793,#94d87d,#afd76a,#c6d256,#d6cd46,#d9c942,#d4ce48,#c1d45b,#a7d770,#88d787,#64d3a3,#3fcbc8,#27bde4,#18a8f4,#0b8dfc,#066ffd)"></div><div style="top:65px;background:linear-gradient(90deg,#087ffd,#0e93fa,#17a6f4,#20b6ed,#2ac0e1,#33c8d5,#43ccc3,#50d0b5,#59d2ab,#5cd2a8,#5ad2aa,#53d0b2,#48cdbf,#3acace,#32c8d7,#33c8d6,#3acacd,#48cebe,#5ad2aa,#6fd59b,#87d789,#9fd875,#b7d664,#cdd04f,#d9ca42,#dac840,#d5cd47,#c0d45c,#a6d770,#87d789,#63d3a4,#3ecbca,#27bde5,#17a7f4,#0a8cfc,#056efd)"></div><div style="top:66px;background:linear-gradient(90deg,#0779fd,#0b8ffb,#14a0f6,#1db2f1,#26bce6,#2fc5db,#3bcacd,#47cdbf,#50cfb6,#54d0b1,#53d0b2,#4dcfb8,#44cdc2,#3acace,#37c9d2,#3bcacd,#46cdc1,#55d1b0,#68d4a0,#7ed790,#93d87f,#a9d76e,#c0d45c,#d4ce48,#dbc740,#dbc73f,#d5cd47,#bfd45d,#a4d772,#85d78a,#60d3a5,#3ccacc,#26bce6,#17a5f4,#0a8afc,#056cfd)"></div><div style="top:67px;background:linear-gradient(90deg,#0674fd,#0a8afc,#119bf8,#1aacf2,#22b8eb,#2bc1e0,#32c8d7,#3ecbca,#47cdc0,#4bcebb,#4cceba,#48cdbe,#41ccc6,#3bcacd,#3ccbcb,#44ccc3,#51d0b5,#62d3a4,#76d696,#8ad786,#9ed876,#b3d667,#c8d154,#d8cb44,#ddc53d,#dcc63e,#d4ce48,#bdd55f,#a2d873,#83d78c,#5ed3a7,#39cacf,#25bbe8,#16a3f5,#0988fc,#056bfe)"></div><div style="top:68px;background:linear-gradient(90deg,#066ffd,#0984fc,#0f95f9,#17a5f4,#1fb5ef,#26bce5,#2dc3dd,#35c9d4,#3ecbca,#43ccc4,#44cdc2,#43ccc4,#3ecbc9,#3ccacc,#42ccc5,#4cceba,#5bd2a9,#6ed59c,#82d78d,#95d87d,#a8d76e,#bcd560,#d0cf4c,#dbc740,#dec33c,#dcc63e,#d3ce49,#bbd661,#9fd875,#80d78e,#5bd2aa,#37c9d2,#24bae9,#15a1f6,#0986fc,#0569fe)"></div><div style="top:69px;background:linear-gradient(90deg,#056bfe,#087dfd,#0c90fb,#149ff6,#1baef2,#22b8ea,#29bfe2,#2fc5db,#35c9d4,#3bcacd,#3dcbca,#3dcbcb,#3bcacd,#3ecbca,#47cdc0,#54d0b1,#65d4a2,#7ad793,#8dd884,#9fd875,#b2d768,#c5d257,#d6cd46,#ddc53d,#dfc23a,#dcc63f,#d1cf4b,#b8d663,#9cd877,#7dd791,#57d1ad,#33c8d5,#22b8eb,#149ff6,#0984fc,#0467fe)"></div><div style="top:70px;background:linear-gradient(90deg,#0466fe,#0777fd,#0a8bfc,#1199f8,#18a7f4,#1fb5ef,#25bbe7,#2bc1e0,#2fc5db,#32c8d7,#36c9d2,#38c9d1,#39cad0,#40cbc8,#4bcebb,#5bd2aa,#6ed59c,#83d78c,#96d87c,#a9d76e,#bbd661,#cdd04f,#d9c942,#dfc33b,#e0c23a,#dbc740,#ced04e,#b5d666,#98d87a,#78d694,#53d0b2,#31c7d8,#21b7ed,#129df7,#0881fd,#0465fe)"></div><div style="top:71px;background:linear-gradient(90deg,#0361fe,#0672fd,#0983fc,#0e93fa,#14a1f6,#1baef2,#21b7ec,#26bce6,#2bc1e0,#2ec4dc,#31c7d9,#32c8d7,#36c9d2,#41ccc6,#4fcfb6,#61d3a5,#76d696,#8bd786,#9ed876,#b1d768,#c3d359,#d4ce48,#dcc63f,#e0c13a,#dfc23a,#dac941,#cad152,#b1d769,#94d87e,#74d698,#4fcfb7,#2fc5db,#1fb5ef,#119af8,#087efd,#0463fe)"></div><div style="top:72px;background:linear-gradient(90deg,#035cfe,#056cfd,#087dfd,#0b8dfc,#119af8,#17a6f4,#1db2f1,#22b8eb,#27bde5,#2ac0e1,#2dc3dd,#2fc5da,#35c9d4,#42ccc5,#53d0b2,#67d4a1,#7dd791,#92d880,#a5d771,#b8d663,#cad152,#d8cb44,#dec43c,#e0c139,#dfc33b,#d8cb44,#c5d257,#acd76c,#8fd882,#6ed59c,#4acebc,#2dc3dd,#1db3f0,#1097f9,#077bfd,#0360fe)"></div><div style="top:73px;background:linear-gradient(90deg,#0258fe,#0466fe,#0776fd,#0986fc,#0e93fa,#139ff6,#19aaf3,#1eb4f0,#22b8ea,#26bce6,#2ac0e1,#2dc3dd,#33c8d6,#43ccc4,#55d1af,#6bd49e,#82d78d,#97d87b,#abd76c,#bed55e,#cfcf4d,#dac841,#dfc33b,#e0c139,#ddc53d,#d5cd47,#c0d45c,#a7d770,#8ad786,#68d4a0,#45cdc2,#2bc1e0,#1caff1,#0e94fa,#0778fd,#035efe)"></div><div style="top:74px;background:linear-gradient(90deg,#0153ff,#0361fe,#066ffd,#087efd,#0b8dfc,#1098f8,#15a2f5,#1aacf2,#1fb5ef,#23b9ea,#26bce6,#2bc1e0,#32c8d7,#43ccc4,#57d1ad,#6fd59b,#86d789,#9bd878,#b0d769,#c3d359,#d3ce49,#dbc740,#dfc23b,#dfc23b,#dbc740,#d0cf4c,#bad662,#a1d874,#84d78b,#62d3a4,#40cbc8,#29bfe3,#1aabf3,#0d91fa,#0674fd,#035bfe)"></div><div style="top:75px;background:linear-gradient(90deg,#014fff,#035cfe,#0569fe,#0777fd,#0985fc,#0d91fa,#129bf7,#16a5f5,#1badf2,#1fb5ef,#23b9ea,#29bfe3,#31c7d8,#43ccc4,#58d2ac,#71d59a,#89d787,#9fd875,#b3d667,#c6d256,#d5cd47,#dcc63f,#dec33c,#ddc43d,#d9ca43,#cad152,#b4d666,#9bd878,#7ed790,#5cd2a9,#3acace,#26bce6,#18a7f4,#0b8efb,#0671fd,#0259fe)"></div><div style="top:76px;background:linear-gradient(90deg,#004bff,#0257fe,#0463fe,#0670fd,#087dfd,#0a8bfc,#0e94fa,#139df7,#17a6f4,#1baff2,#20b6ed,#27bde5,#30c6da,#42ccc5,#59d2ac,#72d599,#8ad786,#a0d874,#b5d666,#c7d255,#d6cd46,#dbc740,#ddc53d,#dbc740,#d5cd47,#c4d358,#aed76b,#94d87e,#77d695,#55d1b0,#34c9d4,#24bae9,#16a3f5,#0a8afc,#056dfd,#0256fe)"></div><div style="top:77px;background:linear-gradient(90deg,#0047ff,#0152ff,#035efe,#056afe,#0776fd,#0882fc,#0b8efc,#0f96f9,#149ff6,#18a8f4,#1db3f0,#25bbe7,#2ec4db,#40ccc7,#58d1ac,#72d599,#8bd786,#a1d874,#b5d666,#c7d255,#d4ce48,#dac941,#dbc740,#d8ca43,#cecf4e,#bcd560,#a6d770,#8dd884,#6fd59b,#4ecfb7,#30c6d9,#21b7ec,#139ff6,#0985fc,#056afe,#0153ff)"></div><div style="top:78px;background:linear-gradient(90deg,#0043ff,#004eff,#0258fe,#0463fe,#056ffd,#077afd,#0986fc,#0c90fb,#1098f8,#15a2f5,#1badf2,#23b9ea,#2dc3dd,#3ecbc9,#56d1ae,#71d59a,#8ad786,#a0d874,#b4d666,#c5d257,#d2ce4a,#d7cb44,#d8cb44,#d3ce49,#c7d255,#b4d666,#9fd875,#86d78a,#67d4a1,#47cdbf,#2dc3dd,#1eb4ef,#119bf8,#0881fd,#0466fe,#0150ff)"></div><div style="top:79px;background:linear-gradient(90deg,#003fff,#0049ff,#0153ff,#035dfe,#0468fe,#0672fd,#087dfd,#0989fc,#0d92fa,#129cf7,#18a9f3,#21b7ec,#2bc1df,#3bcacd,#54d1b1,#6fd59b,#88d788,#9ed876,#b1d768,#c2d45a,#cdd04f,#d3ce49,#d3ce49,#ccd050,#bed55e,#acd76c,#97d87c,#7ed790,#5fd3a7,#40cbc8,#2ac0e1,#1caff1,#0f96f9,#077cfd,#0462fe,#004dff)"></div><div style="top:80px;background:linear-gradient(90deg,#003bff,#0045ff,#004eff,#0258fe,#0361fe,#056bfe,#0776fd,#0880fd,#0a8cfc,#0f96f9,#16a4f5,#1fb5ef,#29bfe2,#38c9d0,#51d0b4,#6cd59d,#85d78a,#9bd878,#aed76b,#bdd55f,#c8d254,#cdd04f,#cbd051,#c3d359,#b6d665,#a4d772,#8ed883,#75d697,#56d1ae,#38cad0,#27bde5,#19aaf3,#0d92fa,#0777fd,#035efe,#004aff)"></div><div style="top:81px;background:linear-gradient(90deg,#0038ff,#0040ff,#004aff,#0152ff,#035bfe,#0465fe,#056efd,#0779fd,#0984fc,#0d91fa,#14a0f6,#1db2f1,#27bde4,#34c9d5,#4dcfb9,#68d4a0,#81d78d,#96d87c,#a9d76e,#b7d664,#c1d45b,#c5d357,#c2d35a,#bad662,#add76b,#9bd878,#86d78a,#6bd49e,#4ecfb8,#31c7d8,#23b9e9,#16a5f5,#0b8dfc,#0672fd,#025bfe,#0047ff)"></div><div style="top:82px;background:linear-gradient(90deg,#0035ff,#003dff,#0045ff,#004dff,#0256ff,#035efe,#0467fe,#0671fd,#087dfd,#0a8cfc,#129bf7,#1baef2,#25bbe7,#31c7d8,#49cebe,#63d3a4,#7dd791,#91d880,#a3d772,#b0d769,#b9d663,#bcd560,#b9d663,#b1d769,#a3d772,#92d880,#7dd791,#61d3a5,#45cdc2,#2dc3dd,#20b6ee,#149ff6,#0988fc,#056dfd,#0257fe,#0044ff)"></div><div style="top:83px;background:linear-gradient(90deg,#0031ff,#0039ff,#0040ff,#0048ff,#0150ff,#0258fe,#0361fe,#056bfe,#0776fd,#0986fc,#1097f9,#19a9f3,#23b9ea,#2ec4db,#43ccc3,#5dd2a8,#76d696,#8bd785,#9cd877,#a9d76e,#b1d769,#b3d667,#b0d769,#a7d76f,#99d879,#88d788,#72d599,#57d1ad,#3ccbcc,#2ac0e1,#1db1f1,#119af8,#0882fc,#0468fe,#0153ff,#0041ff)"></div><div style="top:84px;background:linear-gradient(90deg,#002fff,#0035ff,#003cff,#0044ff,#004bff,#0153ff,#025bfe,#0464fe,#0670fd,#0880fd,#0e93fa,#16a5f5,#21b7ed,#2cc2df,#3ecbca,#56d1ae,#6fd59b,#84d78b,#94d87d,#a0d874,#a8d76f,#a9d76e,#a6d770,#9dd877,#8fd882,#7ed790,#67d4a1,#4dcfb8,#33c8d5,#26bce6,#19abf3,#0e94fa,#077bfd,#0463fe,#014fff,#003eff)"></div><div style="top:85px;background:linear-gradient(90deg,#002cff,#0032ff,#0039ff,#003fff,#0046ff,#004eff,#0256ff,#035ffe,#056bfe,#077bfd,#0b8ffb,#14a0f6,#1eb4f0,#29bfe2,#38c9d1,#50cfb6,#67d4a1,#7dd791,#8cd884,#97d87b,#9ed876,#9fd875,#9bd878,#92d87f,#85d78a,#73d698,#5cd2a9,#44ccc3,#2ec4dc,#22b8eb,#16a4f5,#0b8ffb,#0775fd,#035ffe,#004cff,#003bff)"></div><div style="top:86px;background:linear-gradient(90deg,#0029ff,#002fff,#0035ff,#003bff,#0042ff,#0049ff,#0150ff,#0259fe,#0465fe,#0776fd,#0a8afc,#129cf7,#1baff2,#26bce6,#32c8d8,#48cebe,#5fd3a7,#73d698,#83d78c,#8ed883,#94d87e,#95d87d,#90d881,#88d788,#7ad793,#67d4a1,#51d0b4,#3acace,#2ac0e1,#1eb4f0,#139ef7,#0989fc,#0670fd,#025afe,#0048ff,#0038ff)"></div><div style="top:87px;background:linear-gradient(90deg,#0027ff,#002cff,#0032ff,#0037ff,#003eff,#0044ff,#004cff,#0154ff,#0361fe,#0671fd,#0984fc,#0f97f9,#19aaf3,#23b9ea,#2ec4dc,#40ccc7,#56d1af,#69d49f,#7ad793,#84d78b,#89d787,#8ad786,#86d78a,#7dd791,#6ed59c,#5bd2a9,#46cdc0,#31c7d8,#26bce6,#1aadf2,#1098f8,#0881fc,#056afe,#0256ff,#0044ff,#0036ff)"></div><div style="top:88px;background:linear-gradient(90deg,#0025ff,#0029ff,#002fff,#0034ff,#003aff,#0040ff,#0047ff,#0150ff,#035cfe,#056cfd,#087ffd,#0d92fa,#16a4f5,#20b6ed,#2bc1e0,#38cad0,#4dcfb9,#5fd3a6,#6ed59b,#79d694,#7fd790,#7fd790,#7ad793,#70d59a,#61d3a5,#50cfb6,#3ccacc,#2cc2de,#21b7ec,#17a6f4,#0d92fa,#077afd,#0464fe,#0151ff,#0041ff,#0033ff)"></div><div style="top:89px;background:linear-gradient(90deg,#0022ff,#0027ff,#002cff,#0031ff,#0036ff,#003cff,#0043ff,#004cff,#0258fe,#0467fe,#0779fd,#0b8efc,#139ff6,#1db2f1,#27bde5,#31c7d8,#43ccc3,#55d1b0,#63d3a4,#6dd59d,#72d599,#72d599,#6dd59d,#63d3a4,#55d1b0,#44cdc2,#32c8d7,#28bee4,#1db3f0,#139ef6,#0a8bfc,#0674fd,#035ffe,#004dff,#003dff,#0030ff)"></div><div style="top:90px;background:linear-gradient(90deg,#0020ff,#0025ff,#0029ff,#002eff,#0033ff,#0038ff,#003fff,#0048ff,#0154ff,#0462fe,#0674fd,#0988fc,#1199f8,#1aacf3,#23b9e9,#2dc3dd,#3acace,#4acebc,#57d1ad,#60d3a5,#65d4a2,#65d4a2,#5fd3a6,#56d1af,#49cebd,#39cacf,#2dc3de,#23b9ea,#19aaf3,#1097f9,#0983fc,#056dfd,#0259fe,#0049ff,#003aff,#002eff)"></div><div style="top:91px;background:linear-gradient(90deg,#001fff,#0023ff,#0027ff,#002bff,#0030ff,#0035ff,#003cff,#0044ff,#0150ff,#035efe,#056efd,#0881fc,#0e94fa,#17a5f4,#20b6ee,#29bfe3,#31c7d8,#40cbc8,#4cceba,#54d1b1,#58d2ac,#58d1ad,#53d0b2,#4acebc,#3dcbca,#30c6d9,#27bde4,#1eb4ef,#15a3f5,#0c91fb,#077cfd,#0467fe,#0154ff,#0044ff,#0036ff,#002bff)"></div><div style="top:92px;background:linear-gradient(90deg,#001dff,#0021ff,#0024ff,#0028ff,#002dff,#0032ff,#0038ff,#0041ff,#004cff,#0259fe,#0569fe,#077bfd,#0b8ffb,#139ff6,#1cb0f1,#24bae8,#2dc3de,#35c9d3,#40ccc7,#48cebe,#4cceba,#4bcebb,#46cdc0,#3ecbca,#32c8d7,#2bc1e0,#23b9ea,#1aacf2,#119bf8,#0a8afc,#0674fd,#0361fe,#0150ff,#0040ff,#0033ff,#0029ff)"></div><div style="top:93px;background:linear-gradient(90deg,#001bff,#001fff,#0022ff,#0026ff,#002aff,#002fff,#0035ff,#003eff,#0049ff,#0255ff,#0464fe,#0675fd,#0988fc,#1099f8,#18a9f3,#20b6ed,#28bee4,#2ec4dc,#35c9d3,#3ccbcb,#40cbc8,#3fcbc9,#3acace,#32c8d7,#2cc2de,#25bbe7,#1eb4f0,#16a4f5,#0e94fa,#0881fd,#056dfd,#025bfe,#004bff,#003cff,#0030ff,#0026ff)"></div><div style="top:94px;background:linear-gradient(90deg,#001aff,#001dff,#0020ff,#0024ff,#0028ff,#002dff,#0033ff,#003bff,#0045ff,#0151ff,#035ffe,#066ffd,#0881fd,#0d92fa,#15a1f6,#1cb0f1,#23b9ea,#29bfe2,#2ec4dc,#31c7d8,#34c8d5,#33c8d6,#30c6d9,#2cc2de,#27bde5,#20b6ed,#19abf3,#129cf7,#0a8dfc,#0779fd,#0466fe,#0255ff,#0046ff,#0039ff,#002dff,#0024ff)"></div><div style="top:95px;background:linear-gradient(90deg,#0018ff,#001bff,#001fff,#0022ff,#0026ff,#002aff,#0030ff,#0038ff,#0042ff,#004dff,#025afe,#0569fe,#077afd,#0a8cfc,#119af8,#18a8f4,#1fb5ef,#24bae8,#29bfe3,#2cc2df,#2dc3dd,#2cc2de,#2ac0e1,#27bde5,#22b8ec,#1caff1,#15a2f5,#0e94fa,#0983fc,#0671fd,#035ffe,#0150ff,#0041ff,#0035ff,#002bff,#0022ff)"></div><div style="top:96px;background:linear-gradient(90deg,#0017ff,#001aff,#001dff,#0020ff,#0024ff,#0028ff,#002eff,#0035ff,#003eff,#0049ff,#0255ff,#0463fe,#0673fd,#0984fc,#0e93fa,#14a0f6,#1aacf2,#1fb5ee,#23b9e9,#26bce6,#27bde4,#27bde5,#25bbe8,#21b7ec,#1db1f1,#17a6f4,#1199f8,#0a8cfc,#077afd,#0569fe,#0259fe,#004bff,#003dff,#0032ff,#0028ff,#0020ff)"></div><div style="top:97px;background:linear-gradient(90deg,#0016ff,#0019ff,#001bff,#001eff,#0022ff,#0026ff,#002cff,#0033ff,#003bff,#0045ff,#0151ff,#035efe,#056dfd,#087dfd,#0a8dfc,#1099f8,#16a4f5,#1badf2,#1eb4ef,#21b7ec,#22b8eb,#21b7ec,#1fb5ee,#1cb0f1,#18a7f4,#129df7,#0d91fa,#0983fc,#0672fd,#0462fe,#0153ff,#0046ff,#0039ff,#002eff,#0026ff,#001eff)"></div><div style="top:98px;background:linear-gradient(90deg,#0015ff,#0017ff,#001aff,#001dff,#0020ff,#0024ff,#002aff,#0030ff,#0038ff,#0042ff,#004dff,#0259fe,#0466fe,#0675fd,#0984fc,#0d91fa,#129cf7,#16a4f5,#1aabf3,#1cb0f1,#1db1f1,#1cb0f1,#1aacf2,#17a6f4,#139ef7,#0e94f9,#0a89fc,#0779fd,#056afe,#025bfe,#004eff,#0041ff,#0035ff,#002bff,#0023ff,#001dff)"></div><div style="top:99px;background:linear-gradient(90deg,#0014ff,#0016ff,#0019ff,#001bff,#001fff,#0023ff,#0028ff,#002eff,#0035ff,#003eff,#0048ff,#0154ff,#0360fe,#056efd,#087cfd,#0a8afc,#0e94fa,#129cf7,#15a2f5,#17a6f4,#18a7f4,#17a6f4,#15a3f5,#129df7,#0f95f9,#0a8cfc,#087ffd,#0671fd,#0462fe,#0255ff,#0048ff,#003cff,#0032ff,#0029ff,#0021ff,#001bff)"></div><div style="top:100px;background:linear-gradient(90deg,#0013ff,#0015ff,#0017ff,#001aff,#001dff,#0021ff,#0026ff,#002cff,#0032ff,#003bff,#0044ff,#014fff,#025afe,#0467fe,#0674fd,#0880fd,#0a8cfc,#0e93fa,#1199f8,#129df7,#139ef7,#129df7,#119af8,#0e94fa,#0b8dfc,#0882fc,#0775fd,#0568fe,#035bfe,#014fff,#0043ff,#0038ff,#002eff,#0026ff,#001fff,#0019ff)"></div><div style="top:101px;background:linear-gradient(90deg,#0012ff,#0014ff,#0016ff,#0019ff,#001cff,#0020ff,#0024ff,#0029ff,#0030ff,#0037ff,#0040ff,#004aff,#0255ff,#0360fe,#056cfd,#0778fd,#0882fc,#0a8bfc,#0c91fb,#0e94fa,#0e95f9,#0e94fa,#0c91fb,#0a8cfc,#0983fc,#0778fd,#056dfd,#0361fe,#0155ff,#0049ff,#003eff,#0034ff,#002bff,#0023ff,#001dff,#0018ff)"></div><div style="top:102px;background:linear-gradient(90deg,#0011ff,#0013ff,#0015ff,#0018ff,#001bff,#001eff,#0022ff,#0027ff,#002dff,#0034ff,#003cff,#0046ff,#0150ff,#025afe,#0465fe,#066ffd,#0779fd,#0881fd,#0987fc,#0a8bfc,#0a8dfc,#0a8bfc,#0987fc,#0881fd,#0779fd,#066ffd,#0464fe,#0259fe,#014eff,#0044ff,#0039ff,#0030ff,#0028ff,#0021ff,#001bff,#0016ff)"></div><div style="top:103px;background:linear-gradient(90deg,#0010ff,#0012ff,#0014ff,#0017ff,#0019ff,#001dff,#0021ff,#0025ff,#002bff,#0031ff,#0039ff,#0041ff,#004bff,#0154ff,#035efe,#0467fe,#0670fd,#0777fd,#087dfd,#0881fd,#0882fc,#0880fd,#087dfd,#0777fd,#066ffd,#0466fe,#035dfe,#0153ff,#0048ff,#003eff,#0035ff,#002cff,#0025ff,#001fff,#0019ff,#0015ff)"></div></div>
<svg width="448" height="252" viewBox="0 0 448 252">
<path fill="#fff" d="M160 0H400V8.5H160zM160 111.7H400V120H160zM160 0H170.6V120H160zM274.05 0H289V120H274.05zM392.3 0H400V120H392.3z"/>
<text x="54.9" y="7.7" font-size="10.6" text-anchor="start" >(a)</text>
<text x="153.8" y="7.7" font-size="10.6" text-anchor="start" >(b)</text>
<text x="55" y="131.2" font-size="11" text-anchor="start" >(c)</text>
<text x="235" y="133.1" font-size="11" text-anchor="start" >(d)</text>
<defs><radialGradient id="hot" cx="105.2" cy="58" r="42.2" gradientUnits="userSpaceOnUse"><stop offset="0.46" stop-color="#ffff30"/><stop offset="0.48" stop-color="#fff000"/><stop offset="0.525" stop-color="#ff8800"/><stop offset="0.585" stop-color="#ff1000"/><stop offset="0.665" stop-color="#b00000"/><stop offset="0.735" stop-color="#600000"/><stop offset="0.80" stop-color="#280000"/><stop offset="0.875" stop-color="#000000"/><stop offset="1" stop-color="#000000"/></radialGradient><radialGradient id="wh" cx="105.2" cy="57.8" r="19.6" gradientUnits="userSpaceOnUse"><stop offset="0.82" stop-color="#ffffff"/><stop offset="0.93" stop-color="#ffffa0"/><stop offset="1" stop-color="#ffff30"/></radialGradient><filter id="b1" x="-10%" y="-10%" width="120%" height="120%"><feGaussianBlur stdDeviation="0.45"/></filter><filter id="b2" x="-10%" y="-10%" width="120%" height="120%"><feGaussianBlur stdDeviation="0.3"/></filter></defs>
<g filter="url(#b1)">
<circle cx="105.2" cy="58" r="42.2" fill="url(#hot)"/>
<circle cx="105.2" cy="57.8" r="19.6" fill="url(#wh)" stroke="#4a4a00" stroke-width="1"/>
</g>
<g fill="none" stroke="#06261a" stroke-width="0.75" stroke-opacity="0.9">
<circle cx="221.9" cy="61" r="9.3"/>
<circle cx="341.8" cy="60.8" r="9.3"/>
<circle cx="221.9" cy="61" r="18.2"/>
<circle cx="341.8" cy="60.8" r="18.2"/>
<circle cx="221.9" cy="61" r="27"/>
<circle cx="341.8" cy="60.8" r="27"/>
<circle cx="221.9" cy="61" r="35.5"/>
<circle cx="341.8" cy="60.8" r="35.5"/>
</g>
<text x="223" y="108.2" font-size="7.3" text-anchor="middle" style="fill:#fff;stroke:#fff">Fundamental mode</text>
<text x="342" y="108.2" font-size="7.3" text-anchor="middle" style="fill:#fff;stroke:#fff">First-order mode</text>
<g stroke="#8e8e8e" stroke-width="0.55" fill="none">
<rect x="87.7" y="134.8" width="107.3" height="86.2"/>
<path d="M93.06 221.00v-0.9M93.06 134.80v0.9M98.43 221.00v-0.9M98.43 134.80v0.9M103.80 221.00v-0.9M103.80 134.80v0.9M109.16 221.00v-0.9M109.16 134.80v0.9M114.53 221.00v-0.9M114.53 134.80v0.9M119.89 221.00v-0.9M119.89 134.80v0.9M125.25 221.00v-0.9M125.25 134.80v0.9M130.62 221.00v-0.9M130.62 134.80v0.9M135.99 221.00v-0.9M135.99 134.80v0.9M141.35 221.00v-0.9M141.35 134.80v0.9M146.72 221.00v-0.9M146.72 134.80v0.9M152.08 221.00v-0.9M152.08 134.80v0.9M157.44 221.00v-0.9M157.44 134.80v0.9M162.81 221.00v-0.9M162.81 134.80v0.9M168.18 221.00v-0.9M168.18 134.80v0.9M173.54 221.00v-0.9M173.54 134.80v0.9M178.91 221.00v-0.9M178.91 134.80v0.9M184.27 221.00v-0.9M184.27 134.80v0.9M189.63 221.00v-0.9M189.63 134.80v0.9M87.70 216.69h0.9M195.00 216.69h-0.9M87.70 212.38h0.9M195.00 212.38h-0.9M87.70 208.07h0.9M195.00 208.07h-0.9M87.70 203.76h0.9M195.00 203.76h-0.9M87.70 199.45h0.9M195.00 199.45h-0.9M87.70 195.14h0.9M195.00 195.14h-0.9M87.70 190.83h0.9M195.00 190.83h-0.9M87.70 186.52h0.9M195.00 186.52h-0.9M87.70 182.21h0.9M195.00 182.21h-0.9M87.70 177.90h0.9M195.00 177.90h-0.9M87.70 173.59h0.9M195.00 173.59h-0.9M87.70 169.28h0.9M195.00 169.28h-0.9M87.70 164.97h0.9M195.00 164.97h-0.9M87.70 160.66h0.9M195.00 160.66h-0.9M87.70 156.35h0.9M195.00 156.35h-0.9M87.70 152.04h0.9M195.00 152.04h-0.9M87.70 147.73h0.9M195.00 147.73h-0.9M87.70 143.42h0.9M195.00 143.42h-0.9M87.70 139.11h0.9M195.00 139.11h-0.9"/>
<path d="M109.16 221.00v-1.8M109.16 134.80v1.8M130.62 221.00v-1.8M130.62 134.80v1.8M152.08 221.00v-1.8M152.08 134.80v1.8M173.54 221.00v-1.8M173.54 134.80v1.8M87.70 203.76h1.8M195.00 203.76h-1.8M87.70 186.52h1.8M195.00 186.52h-1.8M87.70 169.28h1.8M195.00 169.28h-1.8M87.70 152.04h1.8M195.00 152.04h-1.8"/>
</g>
<text x="85.5" y="138" font-size="8" text-anchor="end" >1.2</text>
<text x="85.5" y="155.24" font-size="8" text-anchor="end" >1</text>
<text x="85.5" y="172.48" font-size="8" text-anchor="end" >0.8</text>
<text x="85.5" y="189.72" font-size="8" text-anchor="end" >0.6</text>
<text x="85.5" y="206.96" font-size="8" text-anchor="end" >0.4</text>
<text x="85.5" y="224.2" font-size="8" text-anchor="end" >0.2</text>
<text x="198" y="224.5" font-size="8" text-anchor="start" >0</text>
<text x="198" y="207.26" font-size="8" text-anchor="start" >50</text>
<text x="198" y="190.02" font-size="8" text-anchor="start" >100</text>
<text x="198" y="172.78" font-size="8" text-anchor="start" >150</text>
<text x="198" y="155.54" font-size="8" text-anchor="start" >200</text>
<text x="198" y="138.3" font-size="8" text-anchor="start" >250</text>
<text x="87.7" y="231.2" font-size="8" text-anchor="middle" >0</text>
<text x="109.16" y="231.2" font-size="8" text-anchor="middle" >0.2</text>
<text x="130.62" y="231.2" font-size="8" text-anchor="middle" >0.4</text>
<text x="152.08" y="231.2" font-size="8" text-anchor="middle" >0.6</text>
<text x="173.54" y="231.2" font-size="8" text-anchor="middle" >0.8</text>
<text x="195" y="231.2" font-size="8" text-anchor="middle" >1</text>
<text x="143" y="245.2" font-size="8.5" text-anchor="middle" >P metal sizes (d/L)</text>
<text transform="translate(69.6,179) rotate(-90)" font-size="7.9" text-anchor="middle">Slope Efficiency (a. u.)</text>
<text transform="translate(222.3,179) rotate(-90)" font-size="9" text-anchor="middle">G<tspan dy="1.8" font-size="6.5">0</tspan><tspan dy="-1.8"> (cm</tspan><tspan dy="-3.4" font-size="6.5">-1</tspan><tspan dy="3.4">)</tspan></text>
<clipPath id="cc"><rect x="87.7" y="131.8" width="107.6" height="92.2"/></clipPath>
<g clip-path="url(#cc)" filter="url(#b2)">
<polyline fill="none" stroke="#ff3838" stroke-width="0.55" points="98.43,213.50 109.16,184.80 119.89,167.12 130.62,155.92 141.35,149.28 152.08,146.18 162.81,146.70 173.54,149.45 184.27,154.20 195.00,159.37"/>
<polyline fill="none" stroke="#222" stroke-width="0.6" points="98.43,217.90 109.16,208.59 119.89,197.55 130.62,185.83 141.35,174.11 152.08,164.45 162.81,155.49 173.54,149.28 184.27,146.01 195.00,142.73"/>
<circle cx="98.43" cy="213.50" r="2.55" fill="#ff0000"/>
<circle cx="109.16" cy="184.80" r="2.55" fill="#ff0000"/>
<circle cx="119.89" cy="167.12" r="2.55" fill="#ff0000"/>
<circle cx="130.62" cy="155.92" r="2.55" fill="#ff0000"/>
<circle cx="141.35" cy="149.28" r="2.55" fill="#ff0000"/>
<circle cx="152.08" cy="146.18" r="2.55" fill="#ff0000"/>
<circle cx="162.81" cy="146.70" r="2.55" fill="#ff0000"/>
<circle cx="173.54" cy="149.45" r="2.55" fill="#ff0000"/>
<circle cx="184.27" cy="154.20" r="2.55" fill="#ff0000"/>
<circle cx="98.43" cy="217.90" r="1.65" fill="#000"/>
<circle cx="109.16" cy="208.59" r="1.65" fill="#000"/>
<circle cx="119.89" cy="197.55" r="1.65" fill="#000"/>
<circle cx="130.62" cy="185.83" r="1.65" fill="#000"/>
<circle cx="141.35" cy="174.11" r="1.65" fill="#000"/>
<circle cx="152.08" cy="164.45" r="1.65" fill="#000"/>
<circle cx="162.81" cy="155.49" r="1.65" fill="#000"/>
<circle cx="173.54" cy="149.28" r="1.65" fill="#000"/>
<circle cx="184.27" cy="146.01" r="1.65" fill="#000"/>
</g>
<g fill="none" stroke="#000" stroke-width="1.3" filter="url(#b2)">
<ellipse cx="145.7" cy="147.6" rx="14" ry="5.7"/>
<circle cx="140.9" cy="174.6" r="8.4"/>
</g>
<g stroke="#333" stroke-width="0.7" fill="#000" filter="url(#b2)">
<path d="M131.7 147.9H110" fill="none"/><path d="M108 147.9l3.6-1.6v3.2z" stroke="none"/>
<path d="M149.4 175H174" fill="none"/><path d="M176.3 175l-3.6-1.6v3.2z" stroke="none"/>
</g>
<g stroke="#8e8e8e" stroke-width="0.55" fill="none">
<rect x="266.5" y="135.9" width="121" height="92.1"/>
<path d="M273.22 228.00v-0.9M273.22 135.90v0.9M279.94 228.00v-0.9M279.94 135.90v0.9M286.67 228.00v-0.9M286.67 135.90v0.9M293.39 228.00v-0.9M293.39 135.90v0.9M300.11 228.00v-0.9M300.11 135.90v0.9M306.83 228.00v-0.9M306.83 135.90v0.9M313.56 228.00v-0.9M313.56 135.90v0.9M320.28 228.00v-0.9M320.28 135.90v0.9M327.00 228.00v-0.9M327.00 135.90v0.9M333.72 228.00v-0.9M333.72 135.90v0.9M340.44 228.00v-0.9M340.44 135.90v0.9M347.17 228.00v-0.9M347.17 135.90v0.9M353.89 228.00v-0.9M353.89 135.90v0.9M360.61 228.00v-0.9M360.61 135.90v0.9M367.33 228.00v-0.9M367.33 135.90v0.9M374.06 228.00v-0.9M374.06 135.90v0.9M380.78 228.00v-0.9M380.78 135.90v0.9M266.50 223.40h0.9M387.50 223.40h-0.9M266.50 218.79h0.9M387.50 218.79h-0.9M266.50 214.19h0.9M387.50 214.19h-0.9M266.50 209.58h0.9M387.50 209.58h-0.9M266.50 204.97h0.9M387.50 204.97h-0.9M266.50 200.37h0.9M387.50 200.37h-0.9M266.50 195.76h0.9M387.50 195.76h-0.9M266.50 191.16h0.9M387.50 191.16h-0.9M266.50 186.56h0.9M387.50 186.56h-0.9M266.50 181.95h0.9M387.50 181.95h-0.9M266.50 177.34h0.9M387.50 177.34h-0.9M266.50 172.74h0.9M387.50 172.74h-0.9M266.50 168.13h0.9M387.50 168.13h-0.9M266.50 163.53h0.9M387.50 163.53h-0.9M266.50 158.93h0.9M387.50 158.93h-0.9M266.50 154.32h0.9M387.50 154.32h-0.9M266.50 149.72h0.9M387.50 149.72h-0.9M266.50 145.11h0.9M387.50 145.11h-0.9M266.50 140.50h0.9M387.50 140.50h-0.9"/>
<path d="M279.94 228.00v-1.8M279.94 135.90v1.8M306.83 228.00v-1.8M306.83 135.90v1.8M333.72 228.00v-1.8M333.72 135.90v1.8M360.61 228.00v-1.8M360.61 135.90v1.8M266.50 204.97h1.8M387.50 204.97h-1.8M266.50 181.95h1.8M387.50 181.95h-1.8M266.50 158.93h1.8M387.50 158.93h-1.8"/>
</g>
<text x="263.8" y="231.8" font-size="8" text-anchor="end" >0</text>
<text x="263.8" y="208.775" font-size="8" text-anchor="end" >20</text>
<text x="263.8" y="185.75" font-size="8" text-anchor="end" >40</text>
<text x="263.8" y="162.725" font-size="8" text-anchor="end" >60</text>
<text x="263.8" y="139.7" font-size="8" text-anchor="end" >80</text>
<text x="279.944" y="238.9" font-size="8" text-anchor="middle" >0.2</text>
<text x="306.833" y="238.9" font-size="8" text-anchor="middle" >0.4</text>
<text x="333.722" y="238.9" font-size="8" text-anchor="middle" >0.6</text>
<text x="360.611" y="238.9" font-size="8" text-anchor="middle" >0.8</text>
<text x="387.5" y="238.9" font-size="8" text-anchor="middle" >1</text>
<text x="327.5" y="248.3" font-size="8.45" text-anchor="middle" >P metal sizes (d/L)</text>
<text transform="translate(249.8,182.3) rotate(-90)" font-size="9.3" text-anchor="middle">G<tspan dy="1.8" font-size="6.7">0</tspan><tspan dy="-1.8"> - G</tspan><tspan dy="1.8" font-size="6.7">1</tspan><tspan dy="-1.8"> (cm</tspan><tspan dy="-3.5" font-size="6.7">-1</tspan><tspan dy="3.5">)</tspan></text>
<g filter="url(#b2)">
<polyline fill="none" stroke="#ff3838" stroke-width="0.55" points="266.50,219.71 279.94,188.86 293.39,168.83 306.83,152.82 320.28,143.61 333.72,142.35 347.17,149.37 360.61,162.84 374.06,183.10 387.50,209.81"/>
<circle cx="266.50" cy="219.71" r="2.5" fill="#ff0000"/>
<circle cx="279.94" cy="188.86" r="2.5" fill="#ff0000"/>
<circle cx="293.39" cy="168.83" r="2.5" fill="#ff0000"/>
<circle cx="306.83" cy="152.82" r="2.5" fill="#ff0000"/>
<circle cx="320.28" cy="143.61" r="2.5" fill="#ff0000"/>
<circle cx="333.72" cy="142.35" r="2.5" fill="#ff0000"/>
<circle cx="347.17" cy="149.37" r="2.5" fill="#ff0000"/>
<circle cx="360.61" cy="162.84" r="2.5" fill="#ff0000"/>
<circle cx="374.06" cy="183.10" r="2.5" fill="#ff0000"/>
<circle cx="387.50" cy="209.81" r="2.5" fill="#ff0000"/>
</g>
</svg>
</div>
</body></html>
